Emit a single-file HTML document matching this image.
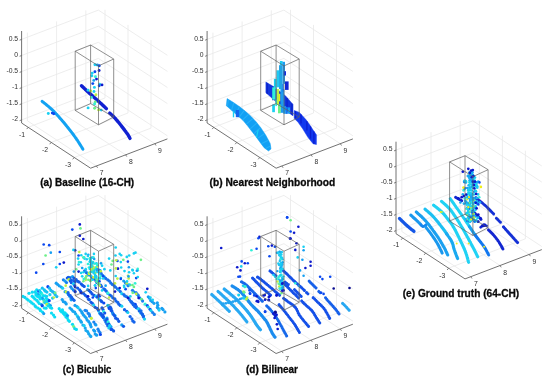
<!DOCTYPE html><html><head><meta charset="utf-8"><title>Figure</title><style>html,body{margin:0;padding:0;background:#fff}svg{display:block}text{font-family:"Liberation Sans",sans-serif}</style></head><body>
<svg width="550" height="382" viewBox="0 0 550 382">
<rect width="550" height="382" fill="#fff"/>
<g transform="translate(0,0)" font-size="6.8" fill="#303030">
<line x1="96.4" y1="166.0" x2="27.4" y2="120.8" stroke="#e9e9e9" stroke-width="0.8"/>
<line x1="27.4" y1="120.8" x2="27.4" y2="32.6" stroke="#e9e9e9" stroke-width="0.8"/>
<line x1="125.6" y1="154.8" x2="56.6" y2="109.6" stroke="#e9e9e9" stroke-width="0.8"/>
<line x1="56.6" y1="109.6" x2="56.6" y2="21.4" stroke="#e9e9e9" stroke-width="0.8"/>
<line x1="154.8" y1="143.7" x2="85.8" y2="98.4" stroke="#e9e9e9" stroke-width="0.8"/>
<line x1="85.8" y1="98.4" x2="85.8" y2="10.3" stroke="#e9e9e9" stroke-width="0.8"/>
<line x1="28.2" y1="127.3" x2="105.0" y2="98.0" stroke="#e9e9e9" stroke-width="0.8"/>
<line x1="105.0" y1="98.0" x2="105.0" y2="9.8" stroke="#e9e9e9" stroke-width="0.8"/>
<line x1="51.2" y1="142.4" x2="128.0" y2="113.0" stroke="#e9e9e9" stroke-width="0.8"/>
<line x1="128.0" y1="113.0" x2="128.0" y2="24.9" stroke="#e9e9e9" stroke-width="0.8"/>
<line x1="74.2" y1="157.5" x2="151.0" y2="128.1" stroke="#e9e9e9" stroke-width="0.8"/>
<line x1="151.0" y1="128.1" x2="151.0" y2="40.0" stroke="#e9e9e9" stroke-width="0.8"/>
<line x1="21.6" y1="39.4" x2="98.4" y2="10.1" stroke="#e9e9e9" stroke-width="0.8"/>
<line x1="98.4" y1="10.1" x2="167.4" y2="55.3" stroke="#e9e9e9" stroke-width="0.8"/>
<line x1="21.6" y1="55.5" x2="98.4" y2="26.2" stroke="#e9e9e9" stroke-width="0.8"/>
<line x1="98.4" y1="26.2" x2="167.4" y2="71.4" stroke="#e9e9e9" stroke-width="0.8"/>
<line x1="21.6" y1="71.6" x2="98.4" y2="42.3" stroke="#e9e9e9" stroke-width="0.8"/>
<line x1="98.4" y1="42.3" x2="167.4" y2="87.5" stroke="#e9e9e9" stroke-width="0.8"/>
<line x1="21.6" y1="87.7" x2="98.4" y2="58.4" stroke="#e9e9e9" stroke-width="0.8"/>
<line x1="98.4" y1="58.4" x2="167.4" y2="103.6" stroke="#e9e9e9" stroke-width="0.8"/>
<line x1="21.6" y1="103.8" x2="98.4" y2="74.5" stroke="#e9e9e9" stroke-width="0.8"/>
<line x1="98.4" y1="74.5" x2="167.4" y2="119.7" stroke="#e9e9e9" stroke-width="0.8"/>
<line x1="21.6" y1="119.9" x2="98.4" y2="90.6" stroke="#e9e9e9" stroke-width="0.8"/>
<line x1="98.4" y1="90.6" x2="167.4" y2="135.8" stroke="#e9e9e9" stroke-width="0.8"/>
<polyline points="42.1,101.3 42.4,101.5 42.6,101.8 43.0,102.0 43.3,102.3 43.7,102.6 44.2,103.0 44.6,103.3 45.1,103.7 45.6,104.1 46.1,104.5 46.6,105.0 47.1,105.4 47.7,105.8 48.2,106.3 48.8,106.7 49.3,107.2 49.8,107.7 50.4,108.1 50.9,108.6 51.4,109.0 51.8,109.5 52.3,109.9 52.7,110.3 53.1,110.7 53.6,111.1 54.0,111.5 54.4,112.0 54.8,112.4 55.2,112.8 55.6,113.2 56.0,113.7 56.4,114.1 56.8,114.5 57.2,115.0 57.6,115.4 58.0,115.9 58.4,116.3 58.8,116.8 59.2,117.2 59.6,117.7 60.0,118.2 60.4,118.6 60.9,119.1 61.3,119.6 61.7,120.1 62.1,120.5 62.4,121.0 62.8,121.4 63.2,121.9 63.6,122.3 64.0,122.8 64.4,123.3 64.8,123.8 65.2,124.3 65.6,124.8 66.0,125.3 66.4,125.8 66.8,126.3 67.2,126.7 67.6,127.2 68.0,127.7 68.4,128.2 68.8,128.7 69.2,129.2 69.5,129.7 69.9,130.1 70.3,130.6 70.6,131.0 70.9,131.5 71.3,131.9 71.6,132.3 71.9,132.7 72.4,133.3 72.8,133.9 73.2,134.5 73.6,135.0 74.0,135.5 74.4,136.1 74.8,136.6 75.1,137.1 75.4,137.5 75.8,138.0 76.1,138.5 76.4,138.9 76.7,139.4 77.0,139.9 77.4,140.3 77.7,140.8 78.0,141.3 78.4,141.9 78.8,142.4 79.1,143.1 79.5,143.7 79.9,144.3 80.3,144.9 80.7,145.5 81.0,146.1 81.4,146.6 81.7,147.2 82.0,147.7 82.3,148.1 82.5,148.5 82.7,148.9 82.9,149.2" fill="none" stroke="#12a2f2" stroke-width="3.0" stroke-linecap="round" stroke-linejoin="round"/>
<polyline points="81.5,85.7 81.8,86.0 82.1,86.3 82.5,86.7 82.9,87.1 83.4,87.5 83.9,88.0 84.4,88.5 85.0,89.0 85.5,89.6 86.0,90.0 86.5,90.5 86.9,90.9 87.4,91.3 87.8,91.7 88.2,92.1 88.7,92.5 89.1,92.9 89.6,93.3 90.0,93.7 90.5,94.1 91.0,94.6 91.5,95.0 92.0,95.5 92.4,95.9 92.8,96.2 93.3,96.6 93.7,97.0 94.2,97.4 94.6,97.8 95.1,98.2 95.5,98.6 96.0,99.1 96.5,99.5 97.0,99.9 97.4,100.3 97.9,100.8 98.4,101.2 98.8,101.6 99.3,102.0 99.8,102.4 100.2,102.9 100.7,103.3 101.3,103.8 101.8,104.3 102.3,104.8 102.8,105.2 103.3,105.7 103.8,106.2 104.3,106.6 104.7,107.0 105.1,107.4 105.5,107.8 105.9,108.1 106.2,108.4 106.4,108.6" fill="none" stroke="#1020d2" stroke-width="3.4" stroke-linecap="round" stroke-linejoin="round"/>
<polyline points="109.7,113.1 110.0,113.4 110.3,113.7 110.7,114.0 111.2,114.5 111.7,114.9 112.2,115.4 112.7,115.9 113.3,116.4 113.8,117.0 114.3,117.5 114.7,117.9 115.1,118.3 115.5,118.8 115.9,119.2 116.3,119.7 116.7,120.1 117.1,120.6 117.5,121.1 117.9,121.6 118.3,122.0 118.7,122.5 119.1,123.0 119.5,123.5 119.9,124.0 120.3,124.5 120.7,125.0 121.1,125.5 121.5,126.1 121.9,126.6 122.3,127.1 122.7,127.6 123.1,128.1 123.5,128.6 123.8,129.1 124.2,129.6 124.5,130.0 124.9,130.6 125.4,131.1 125.8,131.7 126.1,132.2 126.5,132.7 126.8,133.1 127.2,133.6 127.5,134.0 127.8,134.5 128.2,135.1 128.6,135.8 128.9,136.4 129.3,137.0 129.6,137.6 129.8,138.1 130.0,138.4" fill="none" stroke="#1020d2" stroke-width="3.4" stroke-linecap="round" stroke-linejoin="round"/>
<circle cx="94.9" cy="64.7" r="1.45" fill="#18d0f2"/>
<circle cx="97.3" cy="65.0" r="1.45" fill="#16a0f2"/>
<circle cx="99.3" cy="65.8" r="1.45" fill="#0a48f0"/>
<circle cx="99.1" cy="70.5" r="1.45" fill="#0c18cc"/>
<circle cx="94.9" cy="71.7" r="1.45" fill="#0a48f0"/>
<circle cx="92.3" cy="73.1" r="1.45" fill="#18d0f2"/>
<circle cx="91.8" cy="75.7" r="1.45" fill="#18d0f2"/>
<circle cx="95.4" cy="76.8" r="1.45" fill="#30f0d8"/>
<circle cx="96.5" cy="79.1" r="1.45" fill="#0c18cc"/>
<circle cx="93.8" cy="80.4" r="1.45" fill="#16a0f2"/>
<circle cx="92.8" cy="83.6" r="1.45" fill="#0a48f0"/>
<circle cx="99.6" cy="84.3" r="1.45" fill="#18d0f2"/>
<circle cx="102.0" cy="84.9" r="1.45" fill="#0c18cc"/>
<circle cx="94.4" cy="87.4" r="1.45" fill="#18d0f2"/>
<circle cx="88.1" cy="90.2" r="1.45" fill="#18d0f2"/>
<circle cx="90.7" cy="90.9" r="1.45" fill="#c0f040"/>
<circle cx="94.0" cy="91.5" r="1.45" fill="#18d0f2"/>
<circle cx="95.9" cy="94.8" r="1.45" fill="#c0f040"/>
<circle cx="91.4" cy="97.4" r="1.45" fill="#30f0d8"/>
<circle cx="95.3" cy="102.0" r="1.45" fill="#6cf088"/>
<circle cx="94.6" cy="104.0" r="1.45" fill="#30f0d8"/>
<circle cx="88.1" cy="107.9" r="1.45" fill="#18d0f2"/>
<circle cx="94.6" cy="108.3" r="1.45" fill="#6cf088"/>
<circle cx="98.6" cy="109.9" r="1.45" fill="#c0f040"/>
<circle cx="101.2" cy="110.1" r="1.45" fill="#18d0f2"/>
<circle cx="99.2" cy="85.7" r="1.45" fill="#0a48f0"/>
<circle cx="48.3" cy="113.5" r="1.45" fill="#18d0f2"/>
<circle cx="52.3" cy="113.1" r="1.45" fill="#0a48f0"/>
<circle cx="53.8" cy="113.8" r="1.45" fill="#0a48f0"/>
<line x1="75.2" y1="51.2" x2="90.6" y2="45.0" stroke="#606060" stroke-width="0.7"/>
<line x1="90.6" y1="45.0" x2="113.7" y2="59.0" stroke="#606060" stroke-width="0.7"/>
<line x1="113.7" y1="59.0" x2="98.5" y2="65.9" stroke="#606060" stroke-width="0.7"/>
<line x1="98.5" y1="65.9" x2="75.2" y2="51.2" stroke="#606060" stroke-width="0.7"/>
<line x1="75.2" y1="110.4" x2="90.6" y2="103.6" stroke="#606060" stroke-width="0.7"/>
<line x1="90.6" y1="103.6" x2="113.7" y2="117.0" stroke="#606060" stroke-width="0.7"/>
<line x1="113.7" y1="117.0" x2="98.5" y2="124.8" stroke="#606060" stroke-width="0.7"/>
<line x1="98.5" y1="124.8" x2="75.2" y2="110.4" stroke="#606060" stroke-width="0.7"/>
<line x1="75.2" y1="51.2" x2="75.2" y2="110.4" stroke="#606060" stroke-width="0.7"/>
<line x1="90.6" y1="45.0" x2="90.6" y2="103.6" stroke="#606060" stroke-width="0.7"/>
<line x1="113.7" y1="59.0" x2="113.7" y2="117.0" stroke="#606060" stroke-width="0.7"/>
<line x1="98.5" y1="65.9" x2="98.5" y2="124.8" stroke="#606060" stroke-width="0.7"/>
<polyline points="21.6,31.0 21.6,123.0 90.6,168.2 167.4,138.9" fill="none" stroke="#626262" stroke-width="0.9"/>
<line x1="21.6" y1="39.4" x2="19.6" y2="40.2" stroke="#626262" stroke-width="0.8"/>
<text x="18.1" y="40.8" text-anchor="end">0.5</text>
<line x1="21.6" y1="55.5" x2="19.6" y2="56.3" stroke="#626262" stroke-width="0.8"/>
<text x="18.1" y="56.9" text-anchor="end">0</text>
<line x1="21.6" y1="71.6" x2="19.6" y2="72.4" stroke="#626262" stroke-width="0.8"/>
<text x="18.1" y="73.0" text-anchor="end">-0.5</text>
<line x1="21.6" y1="87.7" x2="19.6" y2="88.5" stroke="#626262" stroke-width="0.8"/>
<text x="18.1" y="89.1" text-anchor="end">-1</text>
<line x1="21.6" y1="103.8" x2="19.6" y2="104.6" stroke="#626262" stroke-width="0.8"/>
<text x="18.1" y="105.2" text-anchor="end">-1.5</text>
<line x1="21.6" y1="119.9" x2="19.6" y2="120.7" stroke="#626262" stroke-width="0.8"/>
<text x="18.1" y="121.3" text-anchor="end">-2</text>
<line x1="28.2" y1="127.3" x2="26.7" y2="129.1" stroke="#626262" stroke-width="0.8"/>
<text x="21.9" y="136.8" text-anchor="middle">-1</text>
<line x1="51.2" y1="142.4" x2="49.7" y2="144.2" stroke="#626262" stroke-width="0.8"/>
<text x="44.9" y="151.9" text-anchor="middle">-2</text>
<line x1="74.2" y1="157.5" x2="72.7" y2="159.3" stroke="#626262" stroke-width="0.8"/>
<text x="67.9" y="167.0" text-anchor="middle">-3</text>
<line x1="96.4" y1="166.0" x2="97.6" y2="167.8" stroke="#626262" stroke-width="0.8"/>
<text x="101.6" y="175.4" text-anchor="middle">7</text>
<line x1="125.6" y1="154.8" x2="126.8" y2="156.6" stroke="#626262" stroke-width="0.8"/>
<text x="130.8" y="164.2" text-anchor="middle">8</text>
<line x1="154.8" y1="143.7" x2="156.0" y2="145.5" stroke="#626262" stroke-width="0.8"/>
<text x="160.0" y="153.1" text-anchor="middle">9</text>
</g>
<g transform="translate(185.5,0)" font-size="6.8" fill="#303030">
<line x1="96.4" y1="166.0" x2="27.4" y2="120.8" stroke="#e9e9e9" stroke-width="0.8"/>
<line x1="27.4" y1="120.8" x2="27.4" y2="32.6" stroke="#e9e9e9" stroke-width="0.8"/>
<line x1="125.6" y1="154.8" x2="56.6" y2="109.6" stroke="#e9e9e9" stroke-width="0.8"/>
<line x1="56.6" y1="109.6" x2="56.6" y2="21.4" stroke="#e9e9e9" stroke-width="0.8"/>
<line x1="154.8" y1="143.7" x2="85.8" y2="98.4" stroke="#e9e9e9" stroke-width="0.8"/>
<line x1="85.8" y1="98.4" x2="85.8" y2="10.3" stroke="#e9e9e9" stroke-width="0.8"/>
<line x1="28.2" y1="127.3" x2="105.0" y2="98.0" stroke="#e9e9e9" stroke-width="0.8"/>
<line x1="105.0" y1="98.0" x2="105.0" y2="9.8" stroke="#e9e9e9" stroke-width="0.8"/>
<line x1="51.2" y1="142.4" x2="128.0" y2="113.0" stroke="#e9e9e9" stroke-width="0.8"/>
<line x1="128.0" y1="113.0" x2="128.0" y2="24.9" stroke="#e9e9e9" stroke-width="0.8"/>
<line x1="74.2" y1="157.5" x2="151.0" y2="128.1" stroke="#e9e9e9" stroke-width="0.8"/>
<line x1="151.0" y1="128.1" x2="151.0" y2="40.0" stroke="#e9e9e9" stroke-width="0.8"/>
<line x1="21.6" y1="39.4" x2="98.4" y2="10.1" stroke="#e9e9e9" stroke-width="0.8"/>
<line x1="98.4" y1="10.1" x2="167.4" y2="55.3" stroke="#e9e9e9" stroke-width="0.8"/>
<line x1="21.6" y1="55.5" x2="98.4" y2="26.2" stroke="#e9e9e9" stroke-width="0.8"/>
<line x1="98.4" y1="26.2" x2="167.4" y2="71.4" stroke="#e9e9e9" stroke-width="0.8"/>
<line x1="21.6" y1="71.6" x2="98.4" y2="42.3" stroke="#e9e9e9" stroke-width="0.8"/>
<line x1="98.4" y1="42.3" x2="167.4" y2="87.5" stroke="#e9e9e9" stroke-width="0.8"/>
<line x1="21.6" y1="87.7" x2="98.4" y2="58.4" stroke="#e9e9e9" stroke-width="0.8"/>
<line x1="98.4" y1="58.4" x2="167.4" y2="103.6" stroke="#e9e9e9" stroke-width="0.8"/>
<line x1="21.6" y1="103.8" x2="98.4" y2="74.5" stroke="#e9e9e9" stroke-width="0.8"/>
<line x1="98.4" y1="74.5" x2="167.4" y2="119.7" stroke="#e9e9e9" stroke-width="0.8"/>
<line x1="21.6" y1="119.9" x2="98.4" y2="90.6" stroke="#e9e9e9" stroke-width="0.8"/>
<line x1="98.4" y1="90.6" x2="167.4" y2="135.8" stroke="#e9e9e9" stroke-width="0.8"/>
<polygon points="41.6,98.6 48.0,102.5 54.9,107.3 60.5,111.8 65.9,116.7 70.8,122.0 75.3,127.7 80.3,135.2 84.7,143.4 85.5,149.0 83.0,151.0 78.6,147.7 73.9,141.4 70.0,136.0 66.0,130.9 61.8,125.6 57.6,120.5 54.0,117.3 50.2,114.0 45.5,109.8 40.8,105.7" fill="#12a0f4" stroke="#12a0f4" stroke-width="0.5" stroke-linejoin="round"/>
<line x1="42.9" y1="99.7" x2="41.9" y2="106.3" stroke="#26b0f8" stroke-width="1.1"/>
<line x1="48.2" y1="102.9" x2="46.1" y2="110.1" stroke="#26b0f8" stroke-width="1.1"/>
<line x1="53.8" y1="106.8" x2="50.4" y2="113.9" stroke="#26b0f8" stroke-width="1.1"/>
<line x1="58.6" y1="110.6" x2="53.8" y2="116.8" stroke="#26b0f8" stroke-width="1.1"/>
<line x1="63.1" y1="114.4" x2="57.1" y2="119.8" stroke="#26b0f8" stroke-width="1.1"/>
<line x1="67.3" y1="118.6" x2="60.8" y2="124.1" stroke="#26b0f8" stroke-width="1.1"/>
<line x1="71.3" y1="122.9" x2="64.7" y2="128.9" stroke="#26b0f8" stroke-width="1.1"/>
<line x1="75.0" y1="127.6" x2="68.4" y2="133.6" stroke="#26b0f8" stroke-width="1.1"/>
<line x1="79.0" y1="133.6" x2="72.0" y2="138.4" stroke="#26b0f8" stroke-width="1.1"/>
<line x1="82.8" y1="140.2" x2="75.8" y2="143.7" stroke="#26b0f8" stroke-width="1.1"/>
<line x1="85.0" y1="145.9" x2="80.0" y2="148.4" stroke="#26b0f8" stroke-width="1.1"/>
<rect x="50.3" y="110.0" width="3.4" height="7.2" fill="#1464ee"/>
<rect x="47.3" y="111.5" width="1.4" height="5.8" fill="#18d0f2"/>
<line x1="72.6" y1="129.8" x2="71" y2="137.5" stroke="#18d0f2" stroke-width="1.2"/>
<polygon points="80.4,82.1 88.7,87.0 100.4,96.2 107.5,104.5 107.5,115.8 98.1,109.2 91.0,102.1 80.4,92.7" fill="#1236de" stroke="#1236de" stroke-width="0.5" stroke-linejoin="round"/>
<polygon points="108.7,110.5 113.9,112.4 120.4,119.6 124.2,124.8 127.6,130.1 130.9,134.7 130.9,144.5 127.6,143.8 122.4,137.3 117.2,128.8 112.6,122.3 108.7,118.3" fill="#1238ee" stroke="#1238ee" stroke-width="0.5" stroke-linejoin="round"/>
<line x1="81.8" y1="83.2" x2="81.8" y2="94.0" stroke="#0c24cc" stroke-width="1.3"/>
<line x1="87.3" y1="86.5" x2="87.3" y2="100.2" stroke="#0c24cc" stroke-width="1.3"/>
<line x1="94.6" y1="91.9" x2="94.6" y2="105.4" stroke="#0c24cc" stroke-width="1.3"/>
<line x1="101.6" y1="97.9" x2="101.6" y2="110.0" stroke="#0c24cc" stroke-width="1.3"/>
<line x1="106.3" y1="103.4" x2="106.3" y2="114.4" stroke="#0c24cc" stroke-width="1.3"/>
<line x1="110.0" y1="111.3" x2="110.0" y2="119.0" stroke="#0a1ed0" stroke-width="1.3"/>
<line x1="115.5" y1="114.5" x2="115.5" y2="123.6" stroke="#0a1ed0" stroke-width="1.3"/>
<line x1="121.4" y1="121.2" x2="121.4" y2="130.6" stroke="#0a1ed0" stroke-width="1.3"/>
<line x1="125.0" y1="126.4" x2="125.0" y2="138.6" stroke="#0a1ed0" stroke-width="1.3"/>
<line x1="128.4" y1="131.6" x2="128.4" y2="143.7" stroke="#0a1ed0" stroke-width="1.3"/>
<rect x="94.4" y="61.0" width="2.7" height="4.6" fill="#18d0f2"/>
<rect x="96.9" y="61.8" width="2.6" height="22.1" fill="#1c9cf0"/>
<rect x="98.3" y="71.2" width="2.2" height="4.3" fill="#1030e0"/>
<rect x="93.5" y="65.2" width="3.4" height="23.8" fill="#22a4e6"/>
<rect x="91.0" y="70.3" width="2.7" height="17.0" fill="#20c8f0"/>
<rect x="88.4" y="78.8" width="2.7" height="10.2" fill="#18d0f2"/>
<rect x="99.5" y="81.4" width="3.6" height="8.5" fill="#1226d4"/>
<rect x="86.7" y="87.3" width="3.4" height="12.3" fill="#30f0d8"/>
<rect x="91.0" y="89.0" width="2.7" height="15.7" fill="#c0f040"/>
<rect x="93.5" y="93.8" width="1.5" height="7.5" fill="#f0ee18"/>
<rect x="94.9" y="89.0" width="3.9" height="23.8" fill="#1c9cf0"/>
<rect x="86.7" y="104.4" width="2.7" height="7.8" fill="#18d0f2"/>
<rect x="92.5" y="104.4" width="2.7" height="8.9" fill="#6cf088"/>
<rect x="97.8" y="106.1" width="2.6" height="7.7" fill="#16a0f2"/>
<rect x="100.3" y="106.9" width="2.0" height="7.0" fill="#1274f0"/>
<rect x="102.4" y="107.4" width="2.2" height="6.3" fill="#16a0f2"/>
<rect x="96.6" y="83.9" width="1.7" height="7.7" fill="#1a84ee"/>
<rect x="89.8" y="99.6" width="1.7" height="6.5" fill="#30f0d8"/>
<line x1="75.2" y1="51.2" x2="90.6" y2="45.0" stroke="#606060" stroke-width="0.7"/>
<line x1="90.6" y1="45.0" x2="113.7" y2="59.0" stroke="#606060" stroke-width="0.7"/>
<line x1="113.7" y1="59.0" x2="98.5" y2="65.9" stroke="#606060" stroke-width="0.7"/>
<line x1="98.5" y1="65.9" x2="75.2" y2="51.2" stroke="#606060" stroke-width="0.7"/>
<line x1="75.2" y1="110.4" x2="90.6" y2="103.6" stroke="#606060" stroke-width="0.7"/>
<line x1="90.6" y1="103.6" x2="113.7" y2="117.0" stroke="#606060" stroke-width="0.7"/>
<line x1="113.7" y1="117.0" x2="98.5" y2="124.8" stroke="#606060" stroke-width="0.7"/>
<line x1="98.5" y1="124.8" x2="75.2" y2="110.4" stroke="#606060" stroke-width="0.7"/>
<line x1="75.2" y1="51.2" x2="75.2" y2="110.4" stroke="#606060" stroke-width="0.7"/>
<line x1="90.6" y1="45.0" x2="90.6" y2="103.6" stroke="#606060" stroke-width="0.7"/>
<line x1="113.7" y1="59.0" x2="113.7" y2="117.0" stroke="#606060" stroke-width="0.7"/>
<line x1="98.5" y1="65.9" x2="98.5" y2="124.8" stroke="#606060" stroke-width="0.7"/>
<polyline points="21.6,31.0 21.6,123.0 90.6,168.2 167.4,138.9" fill="none" stroke="#626262" stroke-width="0.9"/>
<line x1="21.6" y1="39.4" x2="19.6" y2="40.2" stroke="#626262" stroke-width="0.8"/>
<text x="18.1" y="40.8" text-anchor="end">0.5</text>
<line x1="21.6" y1="55.5" x2="19.6" y2="56.3" stroke="#626262" stroke-width="0.8"/>
<text x="18.1" y="56.9" text-anchor="end">0</text>
<line x1="21.6" y1="71.6" x2="19.6" y2="72.4" stroke="#626262" stroke-width="0.8"/>
<text x="18.1" y="73.0" text-anchor="end">-0.5</text>
<line x1="21.6" y1="87.7" x2="19.6" y2="88.5" stroke="#626262" stroke-width="0.8"/>
<text x="18.1" y="89.1" text-anchor="end">-1</text>
<line x1="21.6" y1="103.8" x2="19.6" y2="104.6" stroke="#626262" stroke-width="0.8"/>
<text x="18.1" y="105.2" text-anchor="end">-1.5</text>
<line x1="21.6" y1="119.9" x2="19.6" y2="120.7" stroke="#626262" stroke-width="0.8"/>
<text x="18.1" y="121.3" text-anchor="end">-2</text>
<line x1="28.2" y1="127.3" x2="26.7" y2="129.1" stroke="#626262" stroke-width="0.8"/>
<text x="21.9" y="136.8" text-anchor="middle">-1</text>
<line x1="51.2" y1="142.4" x2="49.7" y2="144.2" stroke="#626262" stroke-width="0.8"/>
<text x="44.9" y="151.9" text-anchor="middle">-2</text>
<line x1="74.2" y1="157.5" x2="72.7" y2="159.3" stroke="#626262" stroke-width="0.8"/>
<text x="67.9" y="167.0" text-anchor="middle">-3</text>
<line x1="96.4" y1="166.0" x2="97.6" y2="167.8" stroke="#626262" stroke-width="0.8"/>
<text x="101.6" y="175.4" text-anchor="middle">7</text>
<line x1="125.6" y1="154.8" x2="126.8" y2="156.6" stroke="#626262" stroke-width="0.8"/>
<text x="130.8" y="164.2" text-anchor="middle">8</text>
<line x1="154.8" y1="143.7" x2="156.0" y2="145.5" stroke="#626262" stroke-width="0.8"/>
<text x="160.0" y="153.1" text-anchor="middle">9</text>
</g>
<g transform="translate(0,185.3)" font-size="6.8" fill="#303030">
<line x1="96.4" y1="166.0" x2="27.4" y2="120.8" stroke="#e9e9e9" stroke-width="0.8"/>
<line x1="27.4" y1="120.8" x2="27.4" y2="32.6" stroke="#e9e9e9" stroke-width="0.8"/>
<line x1="125.6" y1="154.8" x2="56.6" y2="109.6" stroke="#e9e9e9" stroke-width="0.8"/>
<line x1="56.6" y1="109.6" x2="56.6" y2="21.4" stroke="#e9e9e9" stroke-width="0.8"/>
<line x1="154.8" y1="143.7" x2="85.8" y2="98.4" stroke="#e9e9e9" stroke-width="0.8"/>
<line x1="85.8" y1="98.4" x2="85.8" y2="10.3" stroke="#e9e9e9" stroke-width="0.8"/>
<line x1="28.2" y1="127.3" x2="105.0" y2="98.0" stroke="#e9e9e9" stroke-width="0.8"/>
<line x1="105.0" y1="98.0" x2="105.0" y2="9.8" stroke="#e9e9e9" stroke-width="0.8"/>
<line x1="51.2" y1="142.4" x2="128.0" y2="113.0" stroke="#e9e9e9" stroke-width="0.8"/>
<line x1="128.0" y1="113.0" x2="128.0" y2="24.9" stroke="#e9e9e9" stroke-width="0.8"/>
<line x1="74.2" y1="157.5" x2="151.0" y2="128.1" stroke="#e9e9e9" stroke-width="0.8"/>
<line x1="151.0" y1="128.1" x2="151.0" y2="40.0" stroke="#e9e9e9" stroke-width="0.8"/>
<line x1="21.6" y1="39.4" x2="98.4" y2="10.1" stroke="#e9e9e9" stroke-width="0.8"/>
<line x1="98.4" y1="10.1" x2="167.4" y2="55.3" stroke="#e9e9e9" stroke-width="0.8"/>
<line x1="21.6" y1="55.5" x2="98.4" y2="26.2" stroke="#e9e9e9" stroke-width="0.8"/>
<line x1="98.4" y1="26.2" x2="167.4" y2="71.4" stroke="#e9e9e9" stroke-width="0.8"/>
<line x1="21.6" y1="71.6" x2="98.4" y2="42.3" stroke="#e9e9e9" stroke-width="0.8"/>
<line x1="98.4" y1="42.3" x2="167.4" y2="87.5" stroke="#e9e9e9" stroke-width="0.8"/>
<line x1="21.6" y1="87.7" x2="98.4" y2="58.4" stroke="#e9e9e9" stroke-width="0.8"/>
<line x1="98.4" y1="58.4" x2="167.4" y2="103.6" stroke="#e9e9e9" stroke-width="0.8"/>
<line x1="21.6" y1="103.8" x2="98.4" y2="74.5" stroke="#e9e9e9" stroke-width="0.8"/>
<line x1="98.4" y1="74.5" x2="167.4" y2="119.7" stroke="#e9e9e9" stroke-width="0.8"/>
<line x1="21.6" y1="119.9" x2="98.4" y2="90.6" stroke="#e9e9e9" stroke-width="0.8"/>
<line x1="98.4" y1="90.6" x2="167.4" y2="135.8" stroke="#e9e9e9" stroke-width="0.8"/>
<circle cx="23.0" cy="111.1" r="1.6" fill="#0cdcf4"/>
<circle cx="24.9" cy="112.1" r="1.6" fill="#18d0f2"/>
<circle cx="26.8" cy="113.7" r="1.6" fill="#0cdcf4"/>
<circle cx="28.2" cy="114.8" r="1.6" fill="#0cdcf4"/>
<circle cx="30.3" cy="116.2" r="1.6" fill="#0cdcf4"/>
<circle cx="31.7" cy="117.6" r="1.6" fill="#0cdcf4"/>
<circle cx="33.4" cy="118.7" r="1.6" fill="#0cdcf4"/>
<circle cx="35.1" cy="120.6" r="1.6" fill="#18d0f2"/>
<circle cx="36.0" cy="121.7" r="1.6" fill="#0cdcf4"/>
<circle cx="37.9" cy="122.7" r="1.6" fill="#0cdcf4"/>
<circle cx="39.9" cy="124.1" r="1.6" fill="#0cdcf4"/>
<circle cx="40.5" cy="125.4" r="1.6" fill="#0cdcf4"/>
<circle cx="42.5" cy="126.7" r="1.6" fill="#0cdcf4"/>
<circle cx="43.7" cy="128.3" r="1.6" fill="#16a0f2"/>
<circle cx="29.0" cy="108.0" r="1.6" fill="#0cdcf4"/>
<circle cx="32.2" cy="110.9" r="1.6" fill="#0cdcf4"/>
<circle cx="33.4" cy="112.0" r="1.6" fill="#0cdcf4"/>
<circle cx="34.8" cy="113.5" r="1.6" fill="#0cdcf4"/>
<circle cx="36.7" cy="115.0" r="1.6" fill="#0cdcf4"/>
<circle cx="38.0" cy="116.5" r="1.6" fill="#0cdcf4"/>
<circle cx="39.3" cy="118.2" r="1.6" fill="#0cdcf4"/>
<circle cx="41.5" cy="119.2" r="1.6" fill="#16a0f2"/>
<circle cx="42.3" cy="120.4" r="1.6" fill="#0a48f0"/>
<circle cx="44.3" cy="122.7" r="1.6" fill="#0cdcf4"/>
<circle cx="46.0" cy="122.9" r="1.6" fill="#0cdcf4"/>
<circle cx="35.0" cy="106.6" r="1.6" fill="#18d0f2"/>
<circle cx="36.4" cy="107.9" r="1.6" fill="#0cdcf4"/>
<circle cx="38.5" cy="109.2" r="1.6" fill="#16a0f2"/>
<circle cx="39.9" cy="110.5" r="1.6" fill="#0cdcf4"/>
<circle cx="41.3" cy="112.5" r="1.6" fill="#0cdcf4"/>
<circle cx="42.5" cy="113.1" r="1.6" fill="#16a0f2"/>
<circle cx="44.0" cy="114.9" r="1.6" fill="#18d0f2"/>
<circle cx="46.2" cy="116.0" r="1.6" fill="#0cdcf4"/>
<circle cx="47.0" cy="117.2" r="1.6" fill="#0cdcf4"/>
<circle cx="48.8" cy="119.0" r="1.6" fill="#0cdcf4"/>
<circle cx="50.4" cy="120.2" r="1.6" fill="#16a0f2"/>
<circle cx="42.3" cy="102.9" r="1.6" fill="#14c4f2"/>
<circle cx="44.3" cy="104.6" r="1.6" fill="#14c4f2"/>
<circle cx="45.5" cy="105.9" r="1.6" fill="#14c4f2"/>
<circle cx="46.9" cy="106.8" r="1.6" fill="#14c4f2"/>
<circle cx="49.9" cy="109.4" r="1.6" fill="#18d0f2"/>
<circle cx="52.6" cy="112.8" r="1.6" fill="#14c4f2"/>
<circle cx="32.3" cy="106.9" r="1.6" fill="#0cdcf4"/>
<circle cx="35.9" cy="109.6" r="1.6" fill="#0cdcf4"/>
<circle cx="37.4" cy="111.0" r="1.6" fill="#0cdcf4"/>
<circle cx="38.8" cy="111.6" r="1.6" fill="#0cdcf4"/>
<circle cx="40.1" cy="113.6" r="1.6" fill="#0cdcf4"/>
<circle cx="44.1" cy="116.6" r="1.6" fill="#6cf088"/>
<circle cx="45.0" cy="117.4" r="1.6" fill="#18d0f2"/>
<circle cx="46.8" cy="119.1" r="1.6" fill="#c0f040"/>
<circle cx="48.0" cy="120.5" r="1.6" fill="#0cdcf4"/>
<circle cx="50.2" cy="122.1" r="1.6" fill="#0cdcf4"/>
<circle cx="51.6" cy="122.9" r="1.6" fill="#0cdcf4"/>
<circle cx="36.7" cy="104.6" r="1.6" fill="#0cdcf4"/>
<circle cx="38.9" cy="105.9" r="1.6" fill="#0a48f0"/>
<circle cx="40.4" cy="106.7" r="1.6" fill="#0cdcf4"/>
<circle cx="41.3" cy="107.9" r="1.6" fill="#0cdcf4"/>
<circle cx="43.2" cy="110.4" r="1.6" fill="#0cdcf4"/>
<circle cx="45.2" cy="110.6" r="1.6" fill="#0cdcf4"/>
<circle cx="46.3" cy="113.0" r="1.6" fill="#0cdcf4"/>
<circle cx="47.7" cy="114.2" r="1.6" fill="#0cdcf4"/>
<circle cx="49.2" cy="115.4" r="1.6" fill="#0a48f0"/>
<circle cx="47.9" cy="101.4" r="1.6" fill="#0a48f0"/>
<circle cx="49.4" cy="102.9" r="1.6" fill="#18b8f0"/>
<circle cx="50.9" cy="105.1" r="1.6" fill="#18b8f0"/>
<circle cx="52.6" cy="106.4" r="1.6" fill="#18b8f0"/>
<circle cx="54.1" cy="107.3" r="1.6" fill="#18b8f0"/>
<circle cx="55.1" cy="109.1" r="1.6" fill="#18b8f0"/>
<circle cx="56.8" cy="111.3" r="1.6" fill="#18b8f0"/>
<circle cx="56.2" cy="97.9" r="1.6" fill="#16a0f2"/>
<circle cx="57.5" cy="99.0" r="1.6" fill="#16a0f2"/>
<circle cx="59.2" cy="100.5" r="1.6" fill="#16a0f2"/>
<circle cx="61.2" cy="101.7" r="1.6" fill="#16a0f2"/>
<circle cx="62.6" cy="102.9" r="1.6" fill="#18d0f2"/>
<circle cx="65.1" cy="106.4" r="1.6" fill="#16a0f2"/>
<circle cx="67.3" cy="107.8" r="1.6" fill="#18d0f2"/>
<circle cx="69.7" cy="111.0" r="1.6" fill="#16a0f2"/>
<circle cx="71.1" cy="113.1" r="1.6" fill="#16a0f2"/>
<circle cx="71.2" cy="114.5" r="1.6" fill="#16a0f2"/>
<circle cx="63.4" cy="94.5" r="1.6" fill="#1a80f0"/>
<circle cx="65.1" cy="95.8" r="1.6" fill="#16a0f2"/>
<circle cx="66.5" cy="97.3" r="1.6" fill="#1a80f0"/>
<circle cx="70.7" cy="101.5" r="1.6" fill="#1a80f0"/>
<circle cx="71.9" cy="103.2" r="1.6" fill="#16a0f2"/>
<circle cx="73.4" cy="104.8" r="1.6" fill="#1a80f0"/>
<circle cx="75.1" cy="106.4" r="1.6" fill="#1a80f0"/>
<circle cx="68.3" cy="92.0" r="1.6" fill="#1464ec"/>
<circle cx="69.9" cy="92.4" r="1.6" fill="#1464ec"/>
<circle cx="71.3" cy="94.7" r="1.6" fill="#1464ec"/>
<circle cx="73.6" cy="95.3" r="1.6" fill="#1464ec"/>
<circle cx="74.9" cy="96.8" r="1.6" fill="#0a48f0"/>
<circle cx="51.5" cy="127.8" r="1.6" fill="#0cdcf4"/>
<circle cx="53.5" cy="129.8" r="1.6" fill="#0cdcf4"/>
<circle cx="54.7" cy="131.7" r="1.6" fill="#0cdcf4"/>
<circle cx="59.2" cy="123.4" r="1.6" fill="#0cdcf4"/>
<circle cx="60.5" cy="125.5" r="1.6" fill="#0cdcf4"/>
<circle cx="61.7" cy="126.7" r="1.6" fill="#0cdcf4"/>
<circle cx="63.5" cy="128.3" r="1.6" fill="#0cdcf4"/>
<circle cx="64.7" cy="129.6" r="1.6" fill="#0cdcf4"/>
<circle cx="66.0" cy="131.6" r="1.6" fill="#0cdcf4"/>
<circle cx="67.3" cy="132.6" r="1.6" fill="#0cdcf4"/>
<circle cx="68.2" cy="134.7" r="1.6" fill="#0cdcf4"/>
<circle cx="69.4" cy="136.0" r="1.6" fill="#0cdcf4"/>
<circle cx="72.5" cy="139.0" r="1.6" fill="#0cdcf4"/>
<circle cx="73.7" cy="141.2" r="1.6" fill="#6cf088"/>
<circle cx="74.7" cy="143.3" r="1.6" fill="#18d0f2"/>
<circle cx="76.4" cy="144.1" r="1.6" fill="#0cdcf4"/>
<circle cx="62.4" cy="124.6" r="1.6" fill="#0cdcf4"/>
<circle cx="62.9" cy="126.2" r="1.6" fill="#0cdcf4"/>
<circle cx="64.9" cy="127.5" r="1.6" fill="#0cdcf4"/>
<circle cx="66.2" cy="128.7" r="1.6" fill="#0cdcf4"/>
<circle cx="67.5" cy="130.3" r="1.6" fill="#16a0f2"/>
<circle cx="69.9" cy="122.8" r="1.6" fill="#18a8f0"/>
<circle cx="71.6" cy="124.3" r="1.6" fill="#16a0f2"/>
<circle cx="73.0" cy="126.0" r="1.6" fill="#18a8f0"/>
<circle cx="74.6" cy="126.7" r="1.6" fill="#18a8f0"/>
<circle cx="75.6" cy="128.5" r="1.6" fill="#18a8f0"/>
<circle cx="77.3" cy="130.6" r="1.6" fill="#18d0f2"/>
<circle cx="78.3" cy="132.0" r="1.6" fill="#18a8f0"/>
<circle cx="78.9" cy="133.6" r="1.6" fill="#18a8f0"/>
<circle cx="80.6" cy="135.5" r="1.6" fill="#18a8f0"/>
<circle cx="81.4" cy="136.9" r="1.6" fill="#18a8f0"/>
<circle cx="82.9" cy="139.7" r="1.6" fill="#18a8f0"/>
<circle cx="84.1" cy="140.3" r="1.6" fill="#18d0f2"/>
<circle cx="85.2" cy="142.8" r="1.6" fill="#18a8f0"/>
<circle cx="86.0" cy="145.2" r="1.6" fill="#18a8f0"/>
<circle cx="87.6" cy="146.3" r="1.6" fill="#18a8f0"/>
<circle cx="88.7" cy="148.4" r="1.6" fill="#18a8f0"/>
<circle cx="90.0" cy="150.2" r="1.6" fill="#18a8f0"/>
<circle cx="90.8" cy="151.3" r="1.6" fill="#18a8f0"/>
<circle cx="75.0" cy="120.1" r="1.6" fill="#16a0f2"/>
<circle cx="77.0" cy="121.2" r="1.6" fill="#16a0f2"/>
<circle cx="78.1" cy="122.4" r="1.6" fill="#18d0f2"/>
<circle cx="80.0" cy="124.5" r="1.6" fill="#16a0f2"/>
<circle cx="81.5" cy="126.2" r="1.6" fill="#16a0f2"/>
<circle cx="82.3" cy="127.9" r="1.6" fill="#16a0f2"/>
<circle cx="83.5" cy="129.7" r="1.6" fill="#16a0f2"/>
<circle cx="84.9" cy="131.3" r="1.6" fill="#16a0f2"/>
<circle cx="86.2" cy="132.8" r="1.6" fill="#16a0f2"/>
<circle cx="87.1" cy="134.8" r="1.6" fill="#16a0f2"/>
<circle cx="88.8" cy="136.4" r="1.6" fill="#16a0f2"/>
<circle cx="90.0" cy="138.4" r="1.6" fill="#16a0f2"/>
<circle cx="90.5" cy="139.6" r="1.6" fill="#16a0f2"/>
<circle cx="91.1" cy="141.5" r="1.6" fill="#16a0f2"/>
<circle cx="93.6" cy="144.8" r="1.6" fill="#16a0f2"/>
<circle cx="94.6" cy="145.9" r="1.6" fill="#16a0f2"/>
<circle cx="95.2" cy="148.7" r="1.6" fill="#16a0f2"/>
<circle cx="96.6" cy="149.9" r="1.6" fill="#16a0f2"/>
<circle cx="85.1" cy="125.0" r="1.6" fill="#1a84f0"/>
<circle cx="86.6" cy="125.6" r="1.6" fill="#1a84f0"/>
<circle cx="88.3" cy="128.0" r="1.6" fill="#1a84f0"/>
<circle cx="89.3" cy="129.0" r="1.6" fill="#1a84f0"/>
<circle cx="89.7" cy="130.9" r="1.6" fill="#1a84f0"/>
<circle cx="91.4" cy="133.0" r="1.6" fill="#c0f040"/>
<circle cx="93.8" cy="136.7" r="1.6" fill="#1a84f0"/>
<circle cx="95.1" cy="138.8" r="1.6" fill="#1a84f0"/>
<circle cx="95.9" cy="139.7" r="1.6" fill="#16a0f2"/>
<circle cx="98.0" cy="143.9" r="1.6" fill="#1a84f0"/>
<circle cx="98.8" cy="145.8" r="1.6" fill="#1a84f0"/>
<circle cx="100.0" cy="147.3" r="1.6" fill="#1a84f0"/>
<circle cx="100.4" cy="149.2" r="1.6" fill="#0a48f0"/>
<circle cx="98.8" cy="125.8" r="1.6" fill="#18d0f2"/>
<circle cx="99.7" cy="128.0" r="1.6" fill="#16a0f2"/>
<circle cx="100.8" cy="129.3" r="1.6" fill="#1670ee"/>
<circle cx="102.2" cy="131.0" r="1.6" fill="#1670ee"/>
<circle cx="103.4" cy="132.4" r="1.6" fill="#1670ee"/>
<circle cx="104.8" cy="134.7" r="1.6" fill="#1670ee"/>
<circle cx="105.8" cy="136.6" r="1.6" fill="#1670ee"/>
<circle cx="106.8" cy="138.4" r="1.6" fill="#1670ee"/>
<circle cx="107.7" cy="140.4" r="1.6" fill="#1670ee"/>
<circle cx="108.9" cy="142.5" r="1.6" fill="#18d0f2"/>
<circle cx="108.6" cy="121.3" r="1.6" fill="#1464ec"/>
<circle cx="109.2" cy="123.1" r="1.6" fill="#0a48f0"/>
<circle cx="111.1" cy="125.2" r="1.6" fill="#1464ec"/>
<circle cx="112.5" cy="127.2" r="1.6" fill="#1464ec"/>
<circle cx="112.9" cy="128.6" r="1.6" fill="#16a0f2"/>
<circle cx="115.0" cy="130.2" r="1.6" fill="#18d0f2"/>
<circle cx="66.2" cy="106.5" r="1.6" fill="#c0f040"/>
<circle cx="68.1" cy="107.4" r="1.6" fill="#1464ec"/>
<circle cx="68.6" cy="109.4" r="1.6" fill="#1464ec"/>
<circle cx="70.3" cy="110.4" r="1.6" fill="#1464ec"/>
<circle cx="71.6" cy="112.1" r="1.6" fill="#1464ec"/>
<circle cx="72.8" cy="113.7" r="1.6" fill="#1464ec"/>
<circle cx="74.1" cy="115.0" r="1.6" fill="#1464ec"/>
<circle cx="62.2" cy="114.2" r="1.6" fill="#16a0f2"/>
<circle cx="63.3" cy="116.3" r="1.6" fill="#16a0f2"/>
<circle cx="65.0" cy="117.0" r="1.6" fill="#16a0f2"/>
<circle cx="66.2" cy="118.6" r="1.6" fill="#16a0f2"/>
<circle cx="67.3" cy="92.7" r="1.6" fill="#1258e8"/>
<circle cx="68.8" cy="94.3" r="1.6" fill="#c0f040"/>
<circle cx="70.3" cy="95.6" r="1.6" fill="#1258e8"/>
<circle cx="71.4" cy="97.4" r="1.6" fill="#1258e8"/>
<circle cx="73.5" cy="98.6" r="1.6" fill="#18d0f2"/>
<circle cx="74.7" cy="100.3" r="1.6" fill="#1258e8"/>
<circle cx="77.6" cy="102.8" r="1.6" fill="#1258e8"/>
<circle cx="79.6" cy="104.5" r="1.6" fill="#1258e8"/>
<circle cx="80.7" cy="106.1" r="1.6" fill="#1258e8"/>
<circle cx="81.6" cy="107.5" r="1.6" fill="#0a48f0"/>
<circle cx="83.7" cy="108.2" r="1.6" fill="#1258e8"/>
<circle cx="85.3" cy="110.0" r="1.6" fill="#1258e8"/>
<circle cx="87.1" cy="111.6" r="1.6" fill="#1258e8"/>
<circle cx="88.5" cy="113.9" r="1.6" fill="#1258e8"/>
<circle cx="89.3" cy="114.5" r="1.6" fill="#1258e8"/>
<circle cx="91.1" cy="117.0" r="1.6" fill="#1258e8"/>
<circle cx="92.6" cy="118.2" r="1.6" fill="#1258e8"/>
<circle cx="93.7" cy="119.7" r="1.6" fill="#18d0f2"/>
<circle cx="95.2" cy="122.0" r="1.6" fill="#1258e8"/>
<circle cx="97.0" cy="123.0" r="1.6" fill="#1258e8"/>
<circle cx="98.3" cy="124.6" r="1.6" fill="#1258e8"/>
<circle cx="101.0" cy="128.2" r="1.6" fill="#1258e8"/>
<circle cx="102.7" cy="129.9" r="1.6" fill="#1258e8"/>
<circle cx="103.5" cy="131.5" r="1.6" fill="#1258e8"/>
<circle cx="105.5" cy="133.8" r="1.6" fill="#16a0f2"/>
<circle cx="106.4" cy="135.5" r="1.6" fill="#1258e8"/>
<circle cx="108.4" cy="138.6" r="1.6" fill="#1258e8"/>
<circle cx="109.8" cy="140.2" r="1.6" fill="#1258e8"/>
<circle cx="111.0" cy="141.5" r="1.6" fill="#16a0f2"/>
<circle cx="112.0" cy="144.2" r="1.6" fill="#1258e8"/>
<circle cx="113.6" cy="145.6" r="1.6" fill="#1258e8"/>
<circle cx="72.5" cy="91.4" r="1.6" fill="#16a0f2"/>
<circle cx="73.9" cy="92.7" r="1.6" fill="#1258e8"/>
<circle cx="76.2" cy="94.4" r="1.6" fill="#1258e8"/>
<circle cx="77.8" cy="96.0" r="1.6" fill="#1258e8"/>
<circle cx="79.2" cy="96.8" r="1.6" fill="#1258e8"/>
<circle cx="81.3" cy="98.8" r="1.6" fill="#1258e8"/>
<circle cx="82.6" cy="100.0" r="1.6" fill="#1258e8"/>
<circle cx="84.2" cy="101.1" r="1.6" fill="#1258e8"/>
<circle cx="87.7" cy="104.4" r="1.6" fill="#16a0f2"/>
<circle cx="89.2" cy="105.4" r="1.6" fill="#1258e8"/>
<circle cx="90.7" cy="106.9" r="1.6" fill="#1258e8"/>
<circle cx="92.1" cy="108.6" r="1.6" fill="#1258e8"/>
<circle cx="94.1" cy="110.0" r="1.6" fill="#1258e8"/>
<circle cx="96.0" cy="110.8" r="1.6" fill="#18d0f2"/>
<circle cx="97.2" cy="111.9" r="1.6" fill="#1258e8"/>
<circle cx="99.0" cy="113.9" r="1.6" fill="#18d0f2"/>
<circle cx="100.8" cy="115.2" r="1.6" fill="#1258e8"/>
<circle cx="101.7" cy="116.4" r="1.6" fill="#1258e8"/>
<circle cx="103.8" cy="117.7" r="1.6" fill="#0a48f0"/>
<circle cx="107.8" cy="120.0" r="1.6" fill="#18d0f2"/>
<circle cx="110.2" cy="121.8" r="1.6" fill="#1258e8"/>
<circle cx="110.9" cy="123.0" r="1.6" fill="#1258e8"/>
<circle cx="111.7" cy="125.3" r="1.6" fill="#1258e8"/>
<circle cx="113.7" cy="129.2" r="1.6" fill="#1258e8"/>
<circle cx="114.7" cy="130.7" r="1.6" fill="#1258e8"/>
<circle cx="115.7" cy="132.9" r="1.6" fill="#1258e8"/>
<circle cx="117.5" cy="133.9" r="1.6" fill="#1258e8"/>
<circle cx="118.8" cy="136.0" r="1.6" fill="#1258e8"/>
<circle cx="121.8" cy="139.6" r="1.6" fill="#16a0f2"/>
<circle cx="123.5" cy="141.0" r="1.6" fill="#1258e8"/>
<circle cx="84.6" cy="85.5" r="1.6" fill="#1464ec"/>
<circle cx="86.3" cy="87.1" r="1.6" fill="#1464ec"/>
<circle cx="87.7" cy="88.2" r="1.6" fill="#1464ec"/>
<circle cx="89.7" cy="89.4" r="1.6" fill="#1464ec"/>
<circle cx="91.1" cy="91.0" r="1.6" fill="#18d0f2"/>
<circle cx="92.6" cy="92.8" r="1.6" fill="#1464ec"/>
<circle cx="94.1" cy="93.7" r="1.6" fill="#1464ec"/>
<circle cx="95.9" cy="95.4" r="1.6" fill="#1464ec"/>
<circle cx="96.8" cy="97.1" r="1.6" fill="#1464ec"/>
<circle cx="98.4" cy="98.5" r="1.6" fill="#0a48f0"/>
<circle cx="100.7" cy="99.9" r="1.6" fill="#1464ec"/>
<circle cx="101.5" cy="101.3" r="1.6" fill="#1464ec"/>
<circle cx="103.8" cy="103.5" r="1.6" fill="#1464ec"/>
<circle cx="104.9" cy="104.4" r="1.6" fill="#1464ec"/>
<circle cx="106.3" cy="105.9" r="1.6" fill="#1464ec"/>
<circle cx="107.8" cy="108.2" r="1.6" fill="#18d0f2"/>
<circle cx="109.9" cy="109.8" r="1.6" fill="#1464ec"/>
<circle cx="111.3" cy="110.7" r="1.6" fill="#1464ec"/>
<circle cx="112.8" cy="112.5" r="1.6" fill="#1464ec"/>
<circle cx="114.8" cy="113.5" r="1.6" fill="#1464ec"/>
<circle cx="115.9" cy="115.6" r="1.6" fill="#1464ec"/>
<circle cx="117.7" cy="117.0" r="1.6" fill="#1464ec"/>
<circle cx="118.7" cy="118.8" r="1.6" fill="#1464ec"/>
<circle cx="120.2" cy="120.1" r="1.6" fill="#1464ec"/>
<circle cx="121.8" cy="120.9" r="1.6" fill="#18d0f2"/>
<circle cx="124.5" cy="124.4" r="1.6" fill="#1464ec"/>
<circle cx="126.8" cy="126.0" r="1.6" fill="#1464ec"/>
<circle cx="127.8" cy="127.2" r="1.6" fill="#18d0f2"/>
<circle cx="130.1" cy="131.2" r="1.6" fill="#1464ec"/>
<circle cx="131.9" cy="133.5" r="1.6" fill="#1464ec"/>
<circle cx="132.8" cy="135.7" r="1.6" fill="#1464ec"/>
<circle cx="134.1" cy="136.8" r="1.6" fill="#1464ec"/>
<circle cx="96.5" cy="83.9" r="1.6" fill="#1670ee"/>
<circle cx="97.7" cy="85.4" r="1.6" fill="#1670ee"/>
<circle cx="99.6" cy="87.1" r="1.6" fill="#1670ee"/>
<circle cx="101.1" cy="88.1" r="1.6" fill="#1670ee"/>
<circle cx="102.5" cy="90.0" r="1.6" fill="#1670ee"/>
<circle cx="104.2" cy="91.5" r="1.6" fill="#16a0f2"/>
<circle cx="105.7" cy="93.1" r="1.6" fill="#1670ee"/>
<circle cx="107.7" cy="94.5" r="1.6" fill="#1670ee"/>
<circle cx="109.4" cy="95.7" r="1.6" fill="#1670ee"/>
<circle cx="110.7" cy="97.6" r="1.6" fill="#1670ee"/>
<circle cx="112.3" cy="99.1" r="1.6" fill="#1670ee"/>
<circle cx="114.0" cy="100.1" r="1.6" fill="#1670ee"/>
<circle cx="115.4" cy="101.9" r="1.6" fill="#1670ee"/>
<circle cx="117.4" cy="103.5" r="1.6" fill="#1670ee"/>
<circle cx="118.7" cy="104.6" r="1.6" fill="#16a0f2"/>
<circle cx="120.3" cy="106.3" r="1.6" fill="#1670ee"/>
<circle cx="121.8" cy="108.4" r="1.6" fill="#18d0f2"/>
<circle cx="123.8" cy="109.3" r="1.6" fill="#1670ee"/>
<circle cx="124.8" cy="110.6" r="1.6" fill="#1670ee"/>
<circle cx="126.4" cy="111.3" r="1.6" fill="#1670ee"/>
<circle cx="128.5" cy="112.7" r="1.6" fill="#1670ee"/>
<circle cx="129.5" cy="114.4" r="1.6" fill="#1670ee"/>
<circle cx="131.6" cy="116.5" r="1.6" fill="#1670ee"/>
<circle cx="133.3" cy="118.3" r="1.6" fill="#1670ee"/>
<circle cx="135.3" cy="119.1" r="1.6" fill="#0a48f0"/>
<circle cx="136.2" cy="121.0" r="1.6" fill="#1670ee"/>
<circle cx="137.7" cy="123.2" r="1.6" fill="#18d0f2"/>
<circle cx="139.1" cy="123.7" r="1.6" fill="#1670ee"/>
<circle cx="141.0" cy="125.5" r="1.6" fill="#1670ee"/>
<circle cx="140.7" cy="127.7" r="1.6" fill="#30f0d8"/>
<circle cx="142.6" cy="129.6" r="1.6" fill="#1670ee"/>
<circle cx="143.5" cy="131.8" r="1.6" fill="#1670ee"/>
<circle cx="144.5" cy="133.8" r="1.6" fill="#18d0f2"/>
<circle cx="123.7" cy="95.7" r="1.6" fill="#16a0f2"/>
<circle cx="125.4" cy="97.5" r="1.6" fill="#1a84f0"/>
<circle cx="127.0" cy="98.7" r="1.6" fill="#1a84f0"/>
<circle cx="128.1" cy="100.4" r="1.6" fill="#1a84f0"/>
<circle cx="132.5" cy="105.0" r="1.6" fill="#1a84f0"/>
<circle cx="133.7" cy="106.5" r="1.6" fill="#1a84f0"/>
<circle cx="136.0" cy="107.4" r="1.6" fill="#1a84f0"/>
<circle cx="137.1" cy="108.9" r="1.6" fill="#1a84f0"/>
<circle cx="138.3" cy="110.1" r="1.6" fill="#1a84f0"/>
<circle cx="139.7" cy="112.6" r="1.6" fill="#1a84f0"/>
<circle cx="141.6" cy="114.0" r="1.6" fill="#6cf088"/>
<circle cx="142.6" cy="115.8" r="1.6" fill="#1a84f0"/>
<circle cx="145.1" cy="118.9" r="1.6" fill="#30f0d8"/>
<circle cx="147.3" cy="120.2" r="1.6" fill="#0a48f0"/>
<circle cx="148.2" cy="121.7" r="1.6" fill="#18d0f2"/>
<circle cx="150.1" cy="124.0" r="1.6" fill="#0a48f0"/>
<circle cx="151.0" cy="125.3" r="1.6" fill="#18d0f2"/>
<circle cx="152.6" cy="127.2" r="1.6" fill="#1a84f0"/>
<circle cx="154.3" cy="129.1" r="1.6" fill="#1a84f0"/>
<circle cx="157.3" cy="117.5" r="1.6" fill="#16a0f2"/>
<circle cx="157.8" cy="119.9" r="1.6" fill="#16a0f2"/>
<circle cx="161.9" cy="123.0" r="1.6" fill="#16a0f2"/>
<circle cx="163.0" cy="124.3" r="1.6" fill="#16a0f2"/>
<circle cx="164.9" cy="126.6" r="1.6" fill="#16a0f2"/>
<circle cx="130.8" cy="116.3" r="1.6" fill="#1464ec"/>
<circle cx="132.0" cy="117.8" r="1.6" fill="#1464ec"/>
<circle cx="133.3" cy="119.5" r="1.6" fill="#1464ec"/>
<circle cx="134.7" cy="121.2" r="1.6" fill="#1464ec"/>
<circle cx="136.2" cy="122.4" r="1.6" fill="#1464ec"/>
<circle cx="138.3" cy="123.7" r="1.6" fill="#18d0f2"/>
<circle cx="139.3" cy="125.7" r="1.6" fill="#1464ec"/>
<circle cx="141.1" cy="127.5" r="1.6" fill="#1464ec"/>
<circle cx="142.4" cy="128.9" r="1.6" fill="#1464ec"/>
<circle cx="143.4" cy="130.7" r="1.6" fill="#1464ec"/>
<circle cx="148.3" cy="111.5" r="1.6" fill="#16a0f2"/>
<circle cx="149.6" cy="112.9" r="1.6" fill="#16a0f2"/>
<circle cx="150.7" cy="115.3" r="1.6" fill="#16a0f2"/>
<circle cx="152.3" cy="116.4" r="1.6" fill="#16a0f2"/>
<circle cx="154.0" cy="118.0" r="1.6" fill="#16a0f2"/>
<circle cx="157.3" cy="122.1" r="1.6" fill="#16a0f2"/>
<circle cx="158.3" cy="123.1" r="1.6" fill="#16a0f2"/>
<circle cx="159.1" cy="124.8" r="1.6" fill="#18d0f2"/>
<circle cx="102.0" cy="122.5" r="1.6" fill="#1258e8"/>
<circle cx="103.0" cy="124.3" r="1.6" fill="#1258e8"/>
<circle cx="103.6" cy="126.2" r="1.6" fill="#30f0d8"/>
<circle cx="104.7" cy="127.8" r="1.6" fill="#1258e8"/>
<circle cx="107.0" cy="132.7" r="1.6" fill="#16a0f2"/>
<circle cx="107.0" cy="134.1" r="1.6" fill="#1258e8"/>
<circle cx="108.1" cy="136.6" r="1.6" fill="#30f0d8"/>
<circle cx="108.9" cy="138.7" r="1.6" fill="#1258e8"/>
<circle cx="109.6" cy="140.3" r="1.6" fill="#18d0f2"/>
<circle cx="111.1" cy="144.1" r="1.6" fill="#1258e8"/>
<circle cx="79.8" cy="39.1" r="1.35" fill="#0c18cc"/>
<circle cx="72.3" cy="44.3" r="1.35" fill="#0a48f0"/>
<circle cx="80.5" cy="43.1" r="1.35" fill="#6cf088"/>
<circle cx="79.8" cy="50.4" r="1.35" fill="#0c18cc"/>
<circle cx="83.3" cy="53.7" r="1.35" fill="#0c18cc"/>
<circle cx="43.7" cy="59.2" r="1.35" fill="#0a48f0"/>
<circle cx="49.2" cy="59.9" r="1.35" fill="#0a48f0"/>
<circle cx="59.8" cy="66.7" r="1.35" fill="#0a48f0"/>
<circle cx="50.8" cy="67.4" r="1.35" fill="#16a0f2"/>
<circle cx="45.6" cy="70.2" r="1.35" fill="#6cf088"/>
<circle cx="75.1" cy="65.0" r="1.35" fill="#0c18cc"/>
<circle cx="73.4" cy="64.6" r="1.35" fill="#18d0f2"/>
<circle cx="43.3" cy="78.7" r="1.35" fill="#0a48f0"/>
<circle cx="63.8" cy="77.3" r="1.35" fill="#0c18cc"/>
<circle cx="59.8" cy="78.7" r="1.35" fill="#0a48f0"/>
<circle cx="56.2" cy="82.0" r="1.35" fill="#18d0f2"/>
<circle cx="36.2" cy="87.4" r="1.35" fill="#0a48f0"/>
<circle cx="78.6" cy="70.2" r="1.35" fill="#0a48f0"/>
<circle cx="78.1" cy="73.3" r="1.35" fill="#18d0f2"/>
<circle cx="85.7" cy="68.6" r="1.35" fill="#18d0f2"/>
<circle cx="83.3" cy="72.1" r="1.35" fill="#6cf088"/>
<circle cx="90.4" cy="73.3" r="1.35" fill="#18d0f2"/>
<circle cx="92.8" cy="76.8" r="1.35" fill="#18d0f2"/>
<circle cx="78.6" cy="79.2" r="1.35" fill="#18d0f2"/>
<circle cx="82.2" cy="82.7" r="1.35" fill="#16a0f2"/>
<circle cx="73.9" cy="86.3" r="1.35" fill="#16a0f2"/>
<circle cx="78.6" cy="86.3" r="1.35" fill="#0c18cc"/>
<circle cx="85.7" cy="83.9" r="1.35" fill="#18d0f2"/>
<circle cx="89.2" cy="88.6" r="1.35" fill="#6cf088"/>
<circle cx="92.8" cy="86.3" r="1.35" fill="#18d0f2"/>
<circle cx="97.5" cy="80.4" r="1.35" fill="#18d0f2"/>
<circle cx="101.0" cy="78.0" r="1.35" fill="#16a0f2"/>
<circle cx="96.3" cy="91.4" r="1.35" fill="#30f0d8"/>
<circle cx="85.7" cy="94.5" r="1.35" fill="#c0f040"/>
<circle cx="90.4" cy="95.7" r="1.35" fill="#6cf088"/>
<circle cx="82.2" cy="91.0" r="1.35" fill="#18d0f2"/>
<circle cx="98.6" cy="98.0" r="1.35" fill="#6cf088"/>
<circle cx="95.1" cy="100.4" r="1.35" fill="#18d0f2"/>
<circle cx="75.1" cy="101.6" r="1.35" fill="#0c18cc"/>
<circle cx="75.1" cy="106.3" r="1.35" fill="#0c18cc"/>
<circle cx="81.0" cy="107.5" r="1.35" fill="#0c18cc"/>
<circle cx="88.0" cy="111.0" r="1.35" fill="#0c18cc"/>
<circle cx="92.8" cy="112.2" r="1.35" fill="#0a48f0"/>
<circle cx="98.6" cy="109.8" r="1.35" fill="#0c18cc"/>
<circle cx="53.9" cy="112.2" r="1.35" fill="#c0f040"/>
<circle cx="55.1" cy="107.5" r="1.35" fill="#6cf088"/>
<circle cx="65.7" cy="100.4" r="1.35" fill="#c0f040"/>
<circle cx="39.7" cy="105.1" r="1.35" fill="#18d0f2"/>
<circle cx="42.1" cy="108.6" r="1.35" fill="#30f0d8"/>
<circle cx="46.8" cy="111.0" r="1.35" fill="#18d0f2"/>
<circle cx="115.7" cy="62.2" r="1.35" fill="#18d0f2"/>
<circle cx="119.7" cy="68.6" r="1.35" fill="#18d0f2"/>
<circle cx="115.5" cy="70.2" r="1.35" fill="#18d0f2"/>
<circle cx="109.1" cy="73.3" r="1.35" fill="#18d0f2"/>
<circle cx="112.7" cy="75.6" r="1.35" fill="#6cf088"/>
<circle cx="111.5" cy="79.2" r="1.35" fill="#6cf088"/>
<circle cx="117.4" cy="75.6" r="1.35" fill="#0a48f0"/>
<circle cx="129.2" cy="70.2" r="1.35" fill="#18d0f2"/>
<circle cx="126.8" cy="71.6" r="1.35" fill="#18d0f2"/>
<circle cx="133.9" cy="68.1" r="1.35" fill="#18d0f2"/>
<circle cx="135.5" cy="67.4" r="1.35" fill="#18d0f2"/>
<circle cx="123.3" cy="74.5" r="1.35" fill="#6cf088"/>
<circle cx="140.9" cy="74.5" r="1.35" fill="#6cf088"/>
<circle cx="117.9" cy="83.4" r="1.35" fill="#0c18cc"/>
<circle cx="124.5" cy="85.8" r="1.35" fill="#18d0f2"/>
<circle cx="132.7" cy="85.1" r="1.35" fill="#18d0f2"/>
<circle cx="110.3" cy="85.1" r="1.35" fill="#18d0f2"/>
<circle cx="128.0" cy="90.5" r="1.35" fill="#c0f040"/>
<circle cx="120.9" cy="92.8" r="1.35" fill="#16a0f2"/>
<circle cx="117.4" cy="93.3" r="1.35" fill="#c0f040"/>
<circle cx="136.2" cy="92.8" r="1.35" fill="#0a48f0"/>
<circle cx="126.8" cy="98.0" r="1.35" fill="#c0f040"/>
<circle cx="130.3" cy="99.9" r="1.35" fill="#6cf088"/>
<circle cx="135.1" cy="98.0" r="1.35" fill="#30f0d8"/>
<circle cx="133.9" cy="101.6" r="1.35" fill="#6cf088"/>
<circle cx="115.0" cy="98.0" r="1.35" fill="#c0f040"/>
<circle cx="119.7" cy="102.7" r="1.35" fill="#0c18cc"/>
<circle cx="115.0" cy="106.3" r="1.35" fill="#0c18cc"/>
<circle cx="125.6" cy="103.9" r="1.35" fill="#0a48f0"/>
<circle cx="147.3" cy="103.5" r="1.35" fill="#0c18cc"/>
<circle cx="145.7" cy="107.0" r="1.35" fill="#18d0f2"/>
<circle cx="132.7" cy="107.5" r="1.35" fill="#6cf088"/>
<circle cx="136.2" cy="108.6" r="1.35" fill="#c0f040"/>
<circle cx="130.3" cy="111.0" r="1.35" fill="#18d0f2"/>
<circle cx="138.6" cy="112.6" r="1.35" fill="#0c18cc"/>
<circle cx="150.4" cy="112.2" r="1.35" fill="#18d0f2"/>
<circle cx="152.7" cy="114.5" r="1.35" fill="#18d0f2"/>
<circle cx="128.0" cy="112.6" r="1.35" fill="#0c18cc"/>
<circle cx="104.4" cy="83.9" r="1.35" fill="#18d0f2"/>
<circle cx="102.1" cy="80.4" r="1.35" fill="#18d0f2"/>
<circle cx="99.7" cy="86.3" r="1.35" fill="#16a0f2"/>
<circle cx="103.2" cy="91.0" r="1.35" fill="#0a48f0"/>
<circle cx="98.5" cy="95.7" r="1.35" fill="#18d0f2"/>
<circle cx="105.6" cy="100.4" r="1.35" fill="#16a0f2"/>
<circle cx="102.1" cy="105.1" r="1.35" fill="#18d0f2"/>
<circle cx="108.0" cy="107.5" r="1.35" fill="#30f0d8"/>
<circle cx="99.7" cy="111.0" r="1.35" fill="#0a48f0"/>
<circle cx="109.1" cy="112.2" r="1.35" fill="#c0f040"/>
<circle cx="96.8" cy="81.7" r="1.3" fill="#c0f040"/>
<circle cx="80.9" cy="76.9" r="1.3" fill="#18d0f2"/>
<circle cx="92.1" cy="72.3" r="1.3" fill="#16a0f2"/>
<circle cx="91.6" cy="76.8" r="1.3" fill="#6cf088"/>
<circle cx="93.4" cy="92.1" r="1.3" fill="#f0ee18"/>
<circle cx="98.9" cy="92.9" r="1.3" fill="#18d0f2"/>
<circle cx="94.8" cy="87.6" r="1.3" fill="#30f0d8"/>
<circle cx="95.8" cy="102.8" r="1.3" fill="#0a48f0"/>
<circle cx="99.5" cy="96.1" r="1.3" fill="#0a48f0"/>
<circle cx="98.8" cy="97.9" r="1.3" fill="#6cf088"/>
<circle cx="90.5" cy="74.6" r="1.3" fill="#30f0d8"/>
<circle cx="92.6" cy="78.2" r="1.3" fill="#16a0f2"/>
<circle cx="90.4" cy="95.1" r="1.3" fill="#6cf088"/>
<circle cx="93.4" cy="71.9" r="1.3" fill="#30f0d8"/>
<circle cx="100.1" cy="93.1" r="1.3" fill="#18d0f2"/>
<circle cx="96.5" cy="96.3" r="1.3" fill="#6cf088"/>
<circle cx="99.9" cy="100.3" r="1.3" fill="#c0f040"/>
<circle cx="95.3" cy="87.8" r="1.3" fill="#c0f040"/>
<circle cx="89.8" cy="83.7" r="1.3" fill="#18d0f2"/>
<circle cx="88.1" cy="100.6" r="1.3" fill="#18d0f2"/>
<circle cx="94.2" cy="73.7" r="1.3" fill="#16a0f2"/>
<circle cx="88.9" cy="82.2" r="1.3" fill="#30f0d8"/>
<circle cx="97.4" cy="95.2" r="1.3" fill="#18d0f2"/>
<circle cx="76.3" cy="83.9" r="1.3" fill="#6cf088"/>
<circle cx="98.5" cy="98.7" r="1.3" fill="#6cf088"/>
<circle cx="81.3" cy="69.9" r="1.3" fill="#18d0f2"/>
<circle cx="89.9" cy="73.4" r="1.3" fill="#30f0d8"/>
<circle cx="83.4" cy="87.0" r="1.3" fill="#18d0f2"/>
<circle cx="99.2" cy="88.5" r="1.3" fill="#18d0f2"/>
<circle cx="94.5" cy="78.3" r="1.3" fill="#30f0d8"/>
<circle cx="88.3" cy="69.4" r="1.3" fill="#16a0f2"/>
<circle cx="100.4" cy="90.8" r="1.3" fill="#30f0d8"/>
<circle cx="92.5" cy="94.5" r="1.3" fill="#18d0f2"/>
<circle cx="90.7" cy="79.4" r="1.3" fill="#16a0f2"/>
<circle cx="95.6" cy="92.5" r="1.3" fill="#6cf088"/>
<circle cx="78.9" cy="76.7" r="1.3" fill="#30f0d8"/>
<circle cx="93.9" cy="68.6" r="1.3" fill="#18d0f2"/>
<circle cx="98.8" cy="84.4" r="1.3" fill="#0a48f0"/>
<circle cx="100.3" cy="85.0" r="1.3" fill="#16a0f2"/>
<circle cx="97.2" cy="84.2" r="1.3" fill="#16a0f2"/>
<circle cx="95.0" cy="83.8" r="1.3" fill="#18d0f2"/>
<circle cx="100.8" cy="85.9" r="1.3" fill="#c0f040"/>
<circle cx="90.8" cy="81.9" r="1.3" fill="#18d0f2"/>
<circle cx="95.6" cy="82.2" r="1.3" fill="#30f0d8"/>
<circle cx="89.7" cy="76.4" r="1.3" fill="#18d0f2"/>
<circle cx="88.3" cy="94.4" r="1.3" fill="#6cf088"/>
<circle cx="97.3" cy="86.6" r="1.3" fill="#18d0f2"/>
<circle cx="88.0" cy="78.7" r="1.3" fill="#30f0d8"/>
<circle cx="91.6" cy="86.0" r="1.3" fill="#6cf088"/>
<circle cx="96.7" cy="94.1" r="1.3" fill="#6cf088"/>
<circle cx="88.4" cy="89.9" r="1.3" fill="#16a0f2"/>
<circle cx="91.3" cy="80.5" r="1.3" fill="#16a0f2"/>
<circle cx="95.7" cy="90.9" r="1.3" fill="#16a0f2"/>
<circle cx="88.7" cy="88.3" r="1.3" fill="#f0ee18"/>
<circle cx="95.0" cy="100.0" r="1.3" fill="#18d0f2"/>
<circle cx="84.5" cy="73.3" r="1.3" fill="#18d0f2"/>
<circle cx="81.1" cy="87.6" r="1.3" fill="#18d0f2"/>
<circle cx="96.5" cy="78.0" r="1.3" fill="#18d0f2"/>
<circle cx="79.3" cy="66.7" r="1.3" fill="#c0f040"/>
<circle cx="103.0" cy="93.2" r="1.3" fill="#18d0f2"/>
<circle cx="95.6" cy="92.0" r="1.3" fill="#18d0f2"/>
<circle cx="91.3" cy="86.5" r="1.3" fill="#18d0f2"/>
<circle cx="84.0" cy="72.1" r="1.3" fill="#30f0d8"/>
<circle cx="85.6" cy="86.0" r="1.3" fill="#16a0f2"/>
<circle cx="88.6" cy="87.9" r="1.3" fill="#18d0f2"/>
<circle cx="87.9" cy="70.6" r="1.3" fill="#18d0f2"/>
<circle cx="90.4" cy="82.1" r="1.3" fill="#18d0f2"/>
<circle cx="96.9" cy="78.9" r="1.3" fill="#30f0d8"/>
<circle cx="86.8" cy="73.9" r="1.3" fill="#18d0f2"/>
<circle cx="92.2" cy="80.6" r="1.3" fill="#f0ee18"/>
<circle cx="90.5" cy="73.1" r="1.3" fill="#18d0f2"/>
<circle cx="89.8" cy="73.1" r="1.3" fill="#30f0d8"/>
<circle cx="90.3" cy="75.3" r="1.3" fill="#18d0f2"/>
<circle cx="91.3" cy="76.6" r="1.3" fill="#18d0f2"/>
<circle cx="91.4" cy="78.2" r="1.3" fill="#18d0f2"/>
<circle cx="91.3" cy="80.1" r="1.3" fill="#18d0f2"/>
<circle cx="92.9" cy="81.6" r="1.3" fill="#18d0f2"/>
<circle cx="92.6" cy="83.9" r="1.3" fill="#18d0f2"/>
<circle cx="93.8" cy="85.0" r="1.3" fill="#18d0f2"/>
<circle cx="94.3" cy="86.5" r="1.3" fill="#18d0f2"/>
<circle cx="93.6" cy="87.8" r="1.3" fill="#18d0f2"/>
<circle cx="95.1" cy="89.4" r="1.3" fill="#18d0f2"/>
<circle cx="95.2" cy="90.7" r="1.3" fill="#18d0f2"/>
<circle cx="96.1" cy="92.1" r="1.3" fill="#18d0f2"/>
<circle cx="83.4" cy="96.0" r="1.25" fill="#6cf088"/>
<circle cx="83.7" cy="93.7" r="1.25" fill="#30f0d8"/>
<circle cx="85.3" cy="92.9" r="1.25" fill="#30f0d8"/>
<circle cx="85.6" cy="92.5" r="1.25" fill="#6cf088"/>
<circle cx="86.3" cy="90.9" r="1.25" fill="#f0ee18"/>
<circle cx="86.3" cy="90.9" r="1.25" fill="#6cf088"/>
<circle cx="89.3" cy="88.5" r="1.25" fill="#f0ee18"/>
<circle cx="89.4" cy="87.1" r="1.25" fill="#c0f040"/>
<circle cx="90.1" cy="87.3" r="1.25" fill="#30f0d8"/>
<circle cx="91.3" cy="84.0" r="1.25" fill="#f0ee18"/>
<circle cx="93.0" cy="83.9" r="1.25" fill="#6cf088"/>
<circle cx="93.8" cy="82.2" r="1.25" fill="#c0f040"/>
<circle cx="128.7" cy="93.1" r="1.3" fill="#c0f040"/>
<circle cx="137.6" cy="85.2" r="1.3" fill="#18d0f2"/>
<circle cx="120.8" cy="93.7" r="1.3" fill="#0a48f0"/>
<circle cx="120.8" cy="76.8" r="1.3" fill="#18d0f2"/>
<circle cx="124.3" cy="102.0" r="1.3" fill="#18d0f2"/>
<circle cx="132.4" cy="84.5" r="1.3" fill="#18d0f2"/>
<circle cx="128.9" cy="81.9" r="1.3" fill="#16a0f2"/>
<circle cx="127.9" cy="76.3" r="1.3" fill="#0a48f0"/>
<circle cx="115.9" cy="83.1" r="1.3" fill="#c0f040"/>
<circle cx="128.5" cy="91.1" r="1.3" fill="#16a0f2"/>
<circle cx="137.8" cy="91.7" r="1.3" fill="#18d0f2"/>
<circle cx="121.2" cy="82.2" r="1.3" fill="#18d0f2"/>
<circle cx="137.7" cy="83.6" r="1.3" fill="#30f0d8"/>
<circle cx="121.2" cy="69.9" r="1.3" fill="#18d0f2"/>
<circle cx="132.5" cy="99.7" r="1.3" fill="#6cf088"/>
<circle cx="116.2" cy="75.0" r="1.3" fill="#c0f040"/>
<circle cx="136.8" cy="85.4" r="1.3" fill="#16a0f2"/>
<circle cx="115.7" cy="90.7" r="1.3" fill="#18d0f2"/>
<circle cx="124.0" cy="100.5" r="1.3" fill="#18d0f2"/>
<circle cx="133.9" cy="88.0" r="1.3" fill="#18d0f2"/>
<circle cx="129.5" cy="99.2" r="1.3" fill="#18d0f2"/>
<circle cx="127.0" cy="96.1" r="1.3" fill="#18d0f2"/>
<circle cx="129.1" cy="86.9" r="1.3" fill="#18d0f2"/>
<line x1="75.2" y1="51.2" x2="90.6" y2="45.0" stroke="#606060" stroke-width="0.7"/>
<line x1="90.6" y1="45.0" x2="113.7" y2="59.0" stroke="#606060" stroke-width="0.7"/>
<line x1="113.7" y1="59.0" x2="98.5" y2="65.9" stroke="#606060" stroke-width="0.7"/>
<line x1="98.5" y1="65.9" x2="75.2" y2="51.2" stroke="#606060" stroke-width="0.7"/>
<line x1="75.2" y1="110.4" x2="90.6" y2="103.6" stroke="#606060" stroke-width="0.7"/>
<line x1="90.6" y1="103.6" x2="113.7" y2="117.0" stroke="#606060" stroke-width="0.7"/>
<line x1="113.7" y1="117.0" x2="98.5" y2="124.8" stroke="#606060" stroke-width="0.7"/>
<line x1="98.5" y1="124.8" x2="75.2" y2="110.4" stroke="#606060" stroke-width="0.7"/>
<line x1="75.2" y1="51.2" x2="75.2" y2="110.4" stroke="#606060" stroke-width="0.7"/>
<line x1="90.6" y1="45.0" x2="90.6" y2="103.6" stroke="#606060" stroke-width="0.7"/>
<line x1="113.7" y1="59.0" x2="113.7" y2="117.0" stroke="#606060" stroke-width="0.7"/>
<line x1="98.5" y1="65.9" x2="98.5" y2="124.8" stroke="#606060" stroke-width="0.7"/>
<polyline points="21.6,31.0 21.6,123.0 90.6,168.2 167.4,138.9" fill="none" stroke="#626262" stroke-width="0.9"/>
<line x1="21.6" y1="39.4" x2="19.6" y2="40.2" stroke="#626262" stroke-width="0.8"/>
<text x="18.1" y="40.8" text-anchor="end">0.5</text>
<line x1="21.6" y1="55.5" x2="19.6" y2="56.3" stroke="#626262" stroke-width="0.8"/>
<text x="18.1" y="56.9" text-anchor="end">0</text>
<line x1="21.6" y1="71.6" x2="19.6" y2="72.4" stroke="#626262" stroke-width="0.8"/>
<text x="18.1" y="73.0" text-anchor="end">-0.5</text>
<line x1="21.6" y1="87.7" x2="19.6" y2="88.5" stroke="#626262" stroke-width="0.8"/>
<text x="18.1" y="89.1" text-anchor="end">-1</text>
<line x1="21.6" y1="103.8" x2="19.6" y2="104.6" stroke="#626262" stroke-width="0.8"/>
<text x="18.1" y="105.2" text-anchor="end">-1.5</text>
<line x1="21.6" y1="119.9" x2="19.6" y2="120.7" stroke="#626262" stroke-width="0.8"/>
<text x="18.1" y="121.3" text-anchor="end">-2</text>
<line x1="28.2" y1="127.3" x2="26.7" y2="129.1" stroke="#626262" stroke-width="0.8"/>
<text x="21.9" y="136.8" text-anchor="middle">-1</text>
<line x1="51.2" y1="142.4" x2="49.7" y2="144.2" stroke="#626262" stroke-width="0.8"/>
<text x="44.9" y="151.9" text-anchor="middle">-2</text>
<line x1="74.2" y1="157.5" x2="72.7" y2="159.3" stroke="#626262" stroke-width="0.8"/>
<text x="67.9" y="167.0" text-anchor="middle">-3</text>
<line x1="96.4" y1="166.0" x2="97.6" y2="167.8" stroke="#626262" stroke-width="0.8"/>
<text x="101.6" y="175.4" text-anchor="middle">7</text>
<line x1="125.6" y1="154.8" x2="126.8" y2="156.6" stroke="#626262" stroke-width="0.8"/>
<text x="130.8" y="164.2" text-anchor="middle">8</text>
<line x1="154.8" y1="143.7" x2="156.0" y2="145.5" stroke="#626262" stroke-width="0.8"/>
<text x="160.0" y="153.1" text-anchor="middle">9</text>
</g>
<g transform="translate(185.5,185.3)" font-size="6.8" fill="#303030">
<line x1="96.4" y1="166.0" x2="27.4" y2="120.8" stroke="#e9e9e9" stroke-width="0.8"/>
<line x1="27.4" y1="120.8" x2="27.4" y2="32.6" stroke="#e9e9e9" stroke-width="0.8"/>
<line x1="125.6" y1="154.8" x2="56.6" y2="109.6" stroke="#e9e9e9" stroke-width="0.8"/>
<line x1="56.6" y1="109.6" x2="56.6" y2="21.4" stroke="#e9e9e9" stroke-width="0.8"/>
<line x1="154.8" y1="143.7" x2="85.8" y2="98.4" stroke="#e9e9e9" stroke-width="0.8"/>
<line x1="85.8" y1="98.4" x2="85.8" y2="10.3" stroke="#e9e9e9" stroke-width="0.8"/>
<line x1="28.2" y1="127.3" x2="105.0" y2="98.0" stroke="#e9e9e9" stroke-width="0.8"/>
<line x1="105.0" y1="98.0" x2="105.0" y2="9.8" stroke="#e9e9e9" stroke-width="0.8"/>
<line x1="51.2" y1="142.4" x2="128.0" y2="113.0" stroke="#e9e9e9" stroke-width="0.8"/>
<line x1="128.0" y1="113.0" x2="128.0" y2="24.9" stroke="#e9e9e9" stroke-width="0.8"/>
<line x1="74.2" y1="157.5" x2="151.0" y2="128.1" stroke="#e9e9e9" stroke-width="0.8"/>
<line x1="151.0" y1="128.1" x2="151.0" y2="40.0" stroke="#e9e9e9" stroke-width="0.8"/>
<line x1="21.6" y1="39.4" x2="98.4" y2="10.1" stroke="#e9e9e9" stroke-width="0.8"/>
<line x1="98.4" y1="10.1" x2="167.4" y2="55.3" stroke="#e9e9e9" stroke-width="0.8"/>
<line x1="21.6" y1="55.5" x2="98.4" y2="26.2" stroke="#e9e9e9" stroke-width="0.8"/>
<line x1="98.4" y1="26.2" x2="167.4" y2="71.4" stroke="#e9e9e9" stroke-width="0.8"/>
<line x1="21.6" y1="71.6" x2="98.4" y2="42.3" stroke="#e9e9e9" stroke-width="0.8"/>
<line x1="98.4" y1="42.3" x2="167.4" y2="87.5" stroke="#e9e9e9" stroke-width="0.8"/>
<line x1="21.6" y1="87.7" x2="98.4" y2="58.4" stroke="#e9e9e9" stroke-width="0.8"/>
<line x1="98.4" y1="58.4" x2="167.4" y2="103.6" stroke="#e9e9e9" stroke-width="0.8"/>
<line x1="21.6" y1="103.8" x2="98.4" y2="74.5" stroke="#e9e9e9" stroke-width="0.8"/>
<line x1="98.4" y1="74.5" x2="167.4" y2="119.7" stroke="#e9e9e9" stroke-width="0.8"/>
<line x1="21.6" y1="119.9" x2="98.4" y2="90.6" stroke="#e9e9e9" stroke-width="0.8"/>
<line x1="98.4" y1="90.6" x2="167.4" y2="135.8" stroke="#e9e9e9" stroke-width="0.8"/>
<polyline points="26.3,109.3 26.6,109.5 26.8,109.8 27.2,110.1 27.6,110.4 28.0,110.8 28.4,111.2 28.9,111.6 29.4,112.1 29.9,112.5 30.4,113.0 30.9,113.5 31.4,114.0 31.9,114.4 32.5,114.9 33.0,115.4 33.5,115.9 34.0,116.3 34.5,116.8 34.9,117.2 35.4,117.6 35.8,118.1 36.3,118.6 36.8,119.1 37.3,119.6 37.8,120.1 38.3,120.6 38.8,121.0 39.3,121.5 39.8,122.0 40.2,122.5 40.7,122.9 41.1,123.3 41.5,123.7 41.9,124.1 42.2,124.4 42.5,124.7 42.8,125.0 43.8,125.9 44.1,126.1 44.3,126.1" fill="none" stroke="#28a8f2" stroke-width="3.3" stroke-linecap="round" stroke-linejoin="round" stroke-dasharray="0.01 1.6"/>
<polyline points="32.6,106.2 32.9,106.4 33.2,106.7 33.5,107.0 33.9,107.3 34.3,107.7 34.7,108.1 35.2,108.5 35.7,109.0 36.2,109.4 36.7,109.9 37.2,110.4 37.8,110.8 38.3,111.3 38.8,111.8 39.3,112.3 39.8,112.7 40.3,113.2 40.8,113.6 41.2,114.0 41.7,114.5 42.2,114.9 42.6,115.4 43.1,115.8 43.5,116.2 44.0,116.7 44.4,117.1 44.8,117.5 45.3,118.0 45.7,118.4 46.1,118.9 46.6,119.3 47.0,119.7 47.4,120.2 47.9,120.6 48.3,121.1 48.7,121.5 49.1,122.0 49.6,122.4 50.0,122.9 50.4,123.3 50.8,123.8 51.2,124.3 51.6,124.7 52.1,125.2 52.5,125.6 52.9,126.1 53.3,126.6 53.7,127.0 54.1,127.5 54.5,128.0 54.9,128.4 55.3,128.9 55.7,129.4 56.2,129.9 56.6,130.5 57.1,131.1 57.5,131.6 58.0,132.2 58.4,132.8 58.9,133.3 59.3,133.9 59.7,134.4 60.1,134.9 60.5,135.4 60.8,135.8 61.1,136.2 61.4,136.5 61.6,136.8" fill="none" stroke="#28a8f2" stroke-width="3.3" stroke-linecap="round" stroke-linejoin="round" stroke-dasharray="0.01 1.6"/>
<polyline points="38.8,103.8 39.1,104.0 39.4,104.3 39.7,104.6 40.1,104.9 40.5,105.2 41.0,105.6 41.5,106.0 42.0,106.4 42.5,106.8 43.0,107.2 43.6,107.7 44.1,108.1 44.7,108.6 45.2,109.0 45.8,109.5 46.3,109.9 46.8,110.4 47.3,110.8 47.8,111.3 48.3,111.7 48.8,112.1 49.2,112.5 49.6,112.9 50.1,113.4 50.5,113.8 51.0,114.2 51.4,114.6 51.8,115.1 52.3,115.5 52.7,115.9 53.1,116.3 53.6,116.8 54.0,117.2 54.4,117.6 54.8,118.1 55.2,118.5 55.7,119.0 56.1,119.4 56.5,119.9 56.9,120.3 57.3,120.8 57.7,121.2 58.1,121.7 58.5,122.1 58.9,122.6 59.3,123.0 59.7,123.5 60.1,123.9 60.5,124.4 60.9,124.9 61.3,125.3 61.7,125.8 62.1,126.3 62.4,126.7 62.8,127.2 63.2,127.7 63.6,128.2 64.0,128.7 64.3,129.2 64.7,129.7 65.1,130.2 65.4,130.7 65.8,131.2 66.1,131.8 66.5,132.3 66.9,132.9 67.2,133.5 67.6,134.0 68.0,134.6 68.3,135.2 68.7,135.7 69.0,136.3 69.4,136.8 69.7,137.4 70.0,137.9 70.3,138.4 70.7,138.9 71.0,139.4 71.3,139.8 71.5,140.2 71.8,140.6 72.3,141.3 72.8,142.0 73.3,142.6 73.8,143.2 74.2,143.6 74.6,144.1 74.9,144.4 75.2,144.8 75.5,145.0 75.7,145.3" fill="none" stroke="#28a8f2" stroke-width="3.3" stroke-linecap="round" stroke-linejoin="round" stroke-dasharray="0.01 1.6"/>
<polyline points="46.7,100.7 47.0,100.9 47.4,101.1 47.8,101.4 48.3,101.7 48.8,102.0 49.3,102.3 49.9,102.7 50.5,103.1 51.1,103.5 51.7,103.9 52.3,104.3 52.9,104.7 53.5,105.2 54.0,105.6 54.5,106.0 54.9,106.4 55.4,106.8 55.8,107.3 56.2,107.7 56.6,108.2 57.0,108.6 57.4,109.1 57.8,109.6 58.2,110.1 58.6,110.5 59.0,111.0 59.3,111.5 59.7,112.0 60.1,112.4 60.4,112.9 60.8,113.3 61.2,113.8 61.6,114.3 62.0,114.8 62.4,115.3 62.8,115.8 63.2,116.2 63.5,116.7 63.9,117.1 64.3,117.6 64.7,118.1 65.1,118.6 65.5,119.1 66.0,119.6 66.4,120.0 66.8,120.4 67.2,120.8 67.6,121.3 68.1,121.7 68.5,122.1 69.0,122.6 69.4,123.0 69.9,123.5 70.3,123.9 70.8,124.4 71.2,124.8 71.7,125.2 72.1,125.7 72.5,126.1 72.9,126.5 73.3,126.9 73.8,127.4 74.2,127.9 74.7,128.5 75.2,129.0 75.6,129.5 76.0,130.0 76.4,130.5 76.8,131.0 77.2,131.4 77.6,131.9 77.9,132.4 78.3,132.8 78.6,133.2 79.1,133.8 79.5,134.3 79.8,134.7 80.2,135.0 80.5,135.5 80.8,136.0 81.2,136.6 81.7,137.4 81.9,137.8 82.2,138.3 82.4,138.7 82.7,139.3 82.9,139.8 83.2,140.4 83.5,141.0 83.8,141.6 84.1,142.2 84.3,142.8 84.6,143.4 84.9,144.1 85.2,144.7 85.5,145.2 85.7,145.8 86.0,146.3 86.2,146.8 86.5,147.3 86.7,147.7 87.1,148.5 87.6,149.2 88.0,149.9 88.4,150.4 88.7,150.9 89.1,151.4 89.4,151.8 89.6,152.1 89.8,152.4" fill="none" stroke="#1c8cee" stroke-width="3.3" stroke-linecap="round" stroke-linejoin="round" stroke-dasharray="0.01 1.6"/>
<polyline points="56.0,96.5 56.3,96.7 56.7,96.9 57.2,97.2 57.7,97.5 58.3,97.9 58.9,98.3 59.5,98.7 60.2,99.2 60.8,99.7 61.2,100.0 61.6,100.4 62.0,100.8 62.4,101.2 62.9,101.6 63.3,102.1 63.7,102.5 64.2,103.0 64.6,103.5 65.1,104.0 65.6,104.5 66.1,105.0 66.6,105.5 67.1,106.0 67.5,106.4 67.9,106.8 68.3,107.2 68.8,107.7 69.2,108.1 69.7,108.6 70.1,109.1 70.6,109.5 71.1,110.0 71.5,110.5 72.0,110.9 72.5,111.4 72.9,111.9 73.4,112.3 73.8,112.8 74.2,113.2 74.6,113.6 75.0,114.0 75.4,114.4 76.0,115.0 76.5,115.5 77.0,116.1 77.4,116.6" fill="none" stroke="#1668ea" stroke-width="3.1" stroke-linecap="round" stroke-linejoin="round" stroke-dasharray="0.01 1.9"/>
<polyline points="81.2,120.6 81.7,121.1 82.1,121.5 82.6,121.9 83.0,122.3 83.5,122.8 83.9,123.2 84.4,123.7 84.9,124.3 85.2,124.7 85.6,125.1 85.9,125.5 86.3,126.0 86.7,126.5 87.1,126.9 87.4,127.4 87.8,127.9 88.2,128.4 88.6,128.9 89.0,129.5 89.3,130.0 89.7,130.5 90.1,131.1 90.4,131.6 90.7,132.0 91.0,132.5 91.3,133.0 91.6,133.5 91.9,134.0 92.2,134.5 92.5,135.0 92.8,135.5 93.1,136.0 93.4,136.6 93.7,137.1 94.0,137.7 94.3,138.2 94.6,138.8 95.0,139.4 95.3,140.0 95.6,140.5 95.9,141.0 96.2,141.5 96.5,142.1 96.8,142.7 97.1,143.3 97.4,143.9 97.8,144.5 98.1,145.1 98.4,145.7 98.8,146.4 99.1,147.0 99.4,147.5 99.7,148.1 100.0,148.7 100.3,149.2 100.6,149.7 100.8,150.2 101.1,150.6 101.3,151.0 101.4,151.3 101.6,151.6" fill="none" stroke="#1668ea" stroke-width="3.1" stroke-linecap="round" stroke-linejoin="round" stroke-dasharray="0.01 1.9"/>
<polyline points="67.1,92.8 67.3,93.0 67.6,93.3 67.9,93.7 68.3,94.0 68.7,94.4 69.1,94.8 69.5,95.3 70.0,95.8 70.5,96.2 70.9,96.7 71.4,97.3 71.9,97.8 72.5,98.3 73.0,98.8 73.5,99.3 74.0,99.8 74.4,100.3 74.9,100.8 75.4,101.2 75.8,101.6 76.2,102.0 76.7,102.5 77.2,103.0 77.7,103.4 78.2,103.9 78.7,104.3 79.2,104.7 79.7,105.1 80.2,105.5 80.7,105.9 81.1,106.3 81.6,106.7 82.0,107.1 82.4,107.4 82.8,107.7 83.1,108.1 83.5,108.4 84.1,108.9 84.5,109.3 84.8,109.7 85.1,110.0" fill="none" stroke="#1450e8" stroke-width="3.1" stroke-linecap="round" stroke-linejoin="round" stroke-dasharray="0.01 1.9"/>
<polyline points="93.6,119.4 94.0,119.9 94.5,120.4 94.9,120.9 95.3,121.4 95.7,121.9 96.1,122.4 96.5,122.9 96.9,123.3 97.3,123.8 97.8,124.3 98.2,124.9 98.6,125.4 99.0,125.9 99.4,126.4 99.8,126.9 100.2,127.5 100.6,128.0 101.0,128.5 101.4,129.0 101.8,129.4 102.1,129.9 102.5,130.4 102.9,130.9 103.2,131.3 103.5,131.7 103.9,132.2 104.2,132.6 104.5,133.0 105.0,133.6 105.5,134.2 105.9,134.8 106.3,135.3 106.7,135.7 107.0,136.2 107.4,136.7 107.7,137.1 108.1,137.6 108.5,138.1 108.8,138.6 109.2,139.2 109.5,139.7 109.9,140.2 110.2,140.8 110.6,141.4 110.9,142.0 111.3,142.6 111.7,143.2 112.0,143.8 112.4,144.4 112.7,145.0 113.0,145.5 113.3,146.0 113.5,146.4 113.7,146.8 113.9,147.1" fill="none" stroke="#1450e8" stroke-width="3.1" stroke-linecap="round" stroke-linejoin="round" stroke-dasharray="0.01 1.9"/>
<polyline points="72.0,91.8 72.3,92.0 72.6,92.2 73.0,92.4 73.4,92.7 73.9,93.0 74.6,93.5 75.3,94.0 76.2,94.7 76.5,95.0 76.9,95.3 77.3,95.6 77.7,96.0 78.2,96.3 78.7,96.7 79.1,97.1 79.6,97.5 80.1,98.0 80.7,98.4 81.2,98.9 81.7,99.3 82.2,99.8 82.8,100.2 83.3,100.7 83.8,101.1 84.3,101.5 84.8,102.0 85.3,102.4 85.8,102.8 86.3,103.2 86.7,103.5 87.1,103.9 87.7,104.4 88.2,104.8 88.7,105.3 89.2,105.7 89.7,106.2 90.2,106.6 90.7,107.0 91.1,107.4 91.6,107.8 92.0,108.2 92.4,108.5 92.9,108.9 93.3,109.3 93.7,109.6 94.1,110.0 94.5,110.3" fill="none" stroke="#1450e8" stroke-width="3.1" stroke-linecap="round" stroke-linejoin="round" stroke-dasharray="0.01 1.9"/>
<polyline points="98.1,113.1 98.6,113.5 99.1,113.8 99.6,114.2 100.2,114.7 100.6,115.0 101.1,115.3 101.5,115.7 102.0,116.0 102.5,116.4 103.1,116.7 103.6,117.1 104.2,117.5 104.7,117.8 105.3,118.2 105.8,118.6 106.4,119.0 106.9,119.4 107.4,119.8 107.9,120.2 108.4,120.6 108.8,121.0 109.2,121.4 109.6,121.8 110.0,122.3 110.4,122.8 110.8,123.3 111.1,123.9 111.3,124.4 111.6,124.9 111.8,125.5 112.1,126.0 112.3,126.6 112.5,127.1 112.7,127.7 113.0,128.2 113.3,128.7 113.6,129.3 113.9,129.8 114.2,130.3 114.6,130.8 115.0,131.3 115.4,131.9 115.8,132.4 116.2,132.9 116.6,133.4 117.1,134.0 117.5,134.5 117.9,135.0 118.3,135.5 118.7,136.0 119.1,136.4 119.5,136.9 119.9,137.3 120.2,137.7 120.7,138.3 121.2,138.9 121.7,139.5 122.1,140.0 122.5,140.5 122.9,141.0 123.3,141.4 123.6,141.8 123.9,142.1 124.1,142.4" fill="none" stroke="#1450e8" stroke-width="3.1" stroke-linecap="round" stroke-linejoin="round" stroke-dasharray="0.01 1.9"/>
<polyline points="84.5,85.7 84.8,85.9 85.1,86.2 85.4,86.4 85.8,86.7 86.2,87.1 86.6,87.4 87.1,87.8 87.6,88.2 88.1,88.6 88.6,89.0 89.1,89.4 89.7,89.9 90.2,90.3 90.8,90.8 91.3,91.2" fill="none" stroke="#1450e8" stroke-width="3.1" stroke-linecap="round" stroke-linejoin="round" stroke-dasharray="0.01 1.9"/>
<polyline points="98.2,97.7 98.6,98.2 99.0,98.6 99.4,99.0 99.9,99.5 100.3,99.9 100.7,100.4 101.2,100.8 101.6,101.3 102.0,101.7 102.4,102.1 102.9,102.6 103.3,103.0 103.7,103.4 104.2,103.9 104.6,104.3 105.1,104.8 105.6,105.2 106.0,105.7 106.5,106.2 107.0,106.6 107.4,107.1 107.9,107.6 108.4,108.0 108.8,108.5 109.3,108.9 109.7,109.4 110.2,109.8 110.6,110.2 111.0,110.6 111.4,111.0 111.8,111.4 112.1,111.7 112.5,112.1 112.8,112.4 113.5,113.1" fill="none" stroke="#1450e8" stroke-width="3.1" stroke-linecap="round" stroke-linejoin="round" stroke-dasharray="0.01 1.9"/>
<polyline points="116.2,115.7 116.6,116.1 117.0,116.5 117.5,117.0 117.9,117.4 118.4,117.8 118.8,118.3 119.3,118.7 119.7,119.2 120.2,119.6 120.7,120.1 121.2,120.6 121.6,121.0 122.0,121.3 122.5,121.7 122.9,122.1 123.4,122.5 123.8,122.8 124.3,123.2 124.7,123.6 125.2,124.1 125.6,124.5 126.1,125.0 126.5,125.5 126.9,126.0 127.2,126.5 127.6,127.0 127.9,127.5 128.3,128.1 128.6,128.7 129.0,129.3 129.3,129.8 129.7,130.4 130.0,131.0 130.3,131.5 130.6,132.1 130.9,132.5 131.2,133.0 131.6,133.7 132.1,134.3 132.5,134.9 132.9,135.5 133.2,136.1 133.6,136.6 133.9,137.0 134.1,137.4 134.3,137.7" fill="none" stroke="#1450e8" stroke-width="3.1" stroke-linecap="round" stroke-linejoin="round" stroke-dasharray="0.01 1.9"/>
<polyline points="98.0,85.5 98.4,85.9 98.8,86.3 99.3,86.7 99.7,87.1 100.2,87.6 100.7,88.0 101.2,88.5 101.7,89.0 102.2,89.5 102.7,90.0 103.2,90.5 103.7,91.0 104.2,91.5 104.7,92.0 105.2,92.5 105.7,93.0 106.2,93.4 106.7,93.9 107.1,94.3 107.6,94.7 108.0,95.1 108.5,95.6 109.0,96.0 109.5,96.5 110.0,97.0 110.5,97.4 111.0,97.9 111.5,98.3 112.0,98.7 112.5,99.2 112.9,99.6 113.4,100.0 113.9,100.4 114.3,100.8 114.8,101.2 115.2,101.6 115.6,102.0 116.0,102.3 116.4,102.7 116.8,103.0 117.2,103.4 117.5,103.7 118.1,104.3 118.6,104.8 119.1,105.3 119.5,105.7" fill="none" stroke="#1450e8" stroke-width="3.1" stroke-linecap="round" stroke-linejoin="round" stroke-dasharray="0.01 1.9"/>
<polyline points="121.0,107.3 121.4,107.6 121.8,108.0 122.2,108.4 122.7,108.8 123.2,109.2 123.7,109.5" fill="none" stroke="#1450e8" stroke-width="3.1" stroke-linecap="round" stroke-linejoin="round" stroke-dasharray="0.01 1.9"/>
<polyline points="127.7,112.4 128.2,112.8 128.6,113.2 129.0,113.6 129.4,114.0 129.8,114.4 130.2,114.8 130.6,115.3 131.1,115.8 131.6,116.3 132.0,116.7 132.4,117.1 132.8,117.5 133.3,117.9 133.8,118.4 134.3,118.8 134.8,119.3 135.3,119.8 135.8,120.2 136.2,120.7 136.7,121.2 137.1,121.6 137.5,122.1 137.9,122.5 138.4,123.1 138.8,123.6 139.2,124.2 139.6,124.7 139.9,125.3 140.2,125.8 140.5,126.4 140.9,126.9 141.2,127.4 141.5,128.0 141.8,128.6 142.2,129.2 142.5,129.9 142.9,130.5 143.2,131.2 143.5,131.8 143.8,132.4 144.1,132.9 144.3,133.4 144.5,133.7" fill="none" stroke="#1450e8" stroke-width="3.1" stroke-linecap="round" stroke-linejoin="round" stroke-dasharray="0.01 1.9"/>
<polyline points="123.7,95.9 124.0,96.2 124.3,96.5 124.6,96.8 125.1,97.3 125.5,97.7 126.0,98.2 126.5,98.7 127.1,99.2 127.6,99.7 128.1,100.3 128.6,100.8 129.1,101.3 129.6,101.8 130.1,102.2 130.5,102.6" fill="none" stroke="#1660ea" stroke-width="3.1" stroke-linecap="round" stroke-linejoin="round" stroke-dasharray="0.01 1.9"/>
<polyline points="133.3,106.2 133.6,106.5 134.0,106.9 134.6,107.3 135.2,107.5 135.7,107.6 136.4,107.9" fill="none" stroke="#1660ea" stroke-width="3.1" stroke-linecap="round" stroke-linejoin="round" stroke-dasharray="0.01 1.9"/>
<polyline points="140.1,112.5 140.6,113.1 141.0,113.6 141.4,114.2 141.8,114.7 142.2,115.2 142.6,115.7 143.1,116.2 143.5,116.6 144.0,117.1 144.4,117.6 144.9,118.1 145.3,118.5 145.7,119.0 146.2,119.5 146.6,119.9 147.0,120.4 147.4,120.9 147.9,121.4 148.4,122.0 148.8,122.5 149.3,123.0 149.7,123.5 150.1,124.0 150.5,124.5 150.9,125.0 151.3,125.5 151.6,125.9 152.1,126.5 152.5,127.2 152.9,127.8 153.3,128.3 153.6,128.8 153.8,129.2 154.0,129.5" fill="none" stroke="#1660ea" stroke-width="3.1" stroke-linecap="round" stroke-linejoin="round" stroke-dasharray="0.01 1.9"/>
<polyline points="157.1,118.0 157.4,118.3 157.7,118.6 158.1,119.0 158.6,119.5 159.1,120.0 159.6,120.5 160.1,121.0 160.6,121.5 161.0,122.0 161.5,122.5 162.0,123.1 162.5,123.6 163.0,124.2 163.5,124.7 163.9,125.2 164.2,125.6 164.5,125.9" fill="none" stroke="#28a8f2" stroke-width="3.1" stroke-linecap="round" stroke-linejoin="round" stroke-dasharray="0.01 1.9"/>
<polyline points="99.8,96.9 100.1,97.1 100.4,97.4 100.8,97.7 101.2,98.0 101.6,98.3 102.1,98.7 102.6,99.1 103.1,99.5 103.7,99.9 104.2,100.3" fill="none" stroke="#1450e8" stroke-width="3.1" stroke-linecap="round" stroke-linejoin="round" stroke-dasharray="0.01 1.9"/>
<polyline points="109.0,104.3 109.4,104.8 109.9,105.3 110.4,105.7 110.9,106.2 111.5,106.8 112.0,107.3 112.5,107.8 112.9,108.3 113.4,108.8 113.9,109.3 114.3,109.7 114.7,110.2 115.1,110.6 115.5,110.9 115.8,111.3 116.1,111.6 116.3,111.8" fill="none" stroke="#1450e8" stroke-width="3.1" stroke-linecap="round" stroke-linejoin="round" stroke-dasharray="0.01 1.9"/>
<circle cx="95.5" cy="89.7" r="1.2" fill="#20c0f2"/>
<circle cx="93.3" cy="94.1" r="1.2" fill="#20c0f2"/>
<circle cx="91.4" cy="67.4" r="1.2" fill="#16a0f2"/>
<circle cx="96.8" cy="100.2" r="1.2" fill="#18d0f2"/>
<circle cx="95.4" cy="83.9" r="1.2" fill="#16a0f2"/>
<circle cx="96.4" cy="66.8" r="1.2" fill="#18d0f2"/>
<circle cx="97.2" cy="76.8" r="1.2" fill="#18d0f2"/>
<circle cx="94.7" cy="96.3" r="1.2" fill="#18d0f2"/>
<circle cx="95.7" cy="89.5" r="1.2" fill="#20c0f2"/>
<circle cx="95.0" cy="74.2" r="1.2" fill="#18d0f2"/>
<circle cx="97.0" cy="103.3" r="1.2" fill="#20c0f2"/>
<circle cx="94.6" cy="86.6" r="1.2" fill="#16a0f2"/>
<circle cx="97.0" cy="74.0" r="1.2" fill="#20c0f2"/>
<circle cx="95.3" cy="99.9" r="1.2" fill="#18d0f2"/>
<circle cx="95.6" cy="79.9" r="1.2" fill="#18d0f2"/>
<circle cx="95.8" cy="77.6" r="1.2" fill="#16a0f2"/>
<circle cx="94.1" cy="66.4" r="1.2" fill="#18d0f2"/>
<circle cx="94.8" cy="97.1" r="1.2" fill="#18d0f2"/>
<circle cx="92.9" cy="78.2" r="1.2" fill="#18d0f2"/>
<circle cx="96.4" cy="103.0" r="1.2" fill="#18d0f2"/>
<circle cx="96.0" cy="94.5" r="1.2" fill="#30f0d8"/>
<circle cx="95.0" cy="80.1" r="1.2" fill="#16a0f2"/>
<circle cx="95.5" cy="66.6" r="1.2" fill="#20c0f2"/>
<circle cx="95.2" cy="73.7" r="1.2" fill="#30f0d8"/>
<circle cx="97.3" cy="101.3" r="1.2" fill="#18d0f2"/>
<circle cx="95.0" cy="86.0" r="1.2" fill="#30f0d8"/>
<circle cx="94.8" cy="70.3" r="1.2" fill="#20c0f2"/>
<circle cx="92.2" cy="67.7" r="1.2" fill="#20c0f2"/>
<circle cx="93.7" cy="69.7" r="1.2" fill="#20c0f2"/>
<circle cx="96.8" cy="79.1" r="1.2" fill="#20c0f2"/>
<circle cx="95.0" cy="86.8" r="1.2" fill="#18d0f2"/>
<circle cx="95.9" cy="69.2" r="1.2" fill="#18d0f2"/>
<circle cx="96.6" cy="92.2" r="1.2" fill="#18d0f2"/>
<circle cx="96.2" cy="103.4" r="1.2" fill="#16a0f2"/>
<circle cx="95.4" cy="81.6" r="1.2" fill="#20c0f2"/>
<circle cx="97.2" cy="83.4" r="1.2" fill="#18d0f2"/>
<circle cx="95.0" cy="68.4" r="1.2" fill="#18d0f2"/>
<circle cx="95.8" cy="97.9" r="1.2" fill="#18d0f2"/>
<circle cx="97.7" cy="93.8" r="1.2" fill="#30f0d8"/>
<circle cx="94.2" cy="70.3" r="1.2" fill="#18d0f2"/>
<circle cx="95.5" cy="71.9" r="1.2" fill="#18d0f2"/>
<circle cx="95.2" cy="103.9" r="1.2" fill="#20c0f2"/>
<circle cx="94.6" cy="103.0" r="1.2" fill="#30f0d8"/>
<circle cx="95.9" cy="84.3" r="1.2" fill="#18d0f2"/>
<circle cx="96.1" cy="81.5" r="1.2" fill="#20c0f2"/>
<circle cx="97.2" cy="102.4" r="1.2" fill="#16a0f2"/>
<circle cx="95.1" cy="85.1" r="1.2" fill="#18d0f2"/>
<circle cx="96.4" cy="95.7" r="1.2" fill="#20c0f2"/>
<circle cx="95.8" cy="79.9" r="1.2" fill="#16a0f2"/>
<circle cx="93.3" cy="91.3" r="1.2" fill="#30f0d8"/>
<circle cx="94.9" cy="80.0" r="1.2" fill="#18d0f2"/>
<circle cx="94.7" cy="95.3" r="1.2" fill="#16a0f2"/>
<circle cx="97.0" cy="77.3" r="1.2" fill="#16a0f2"/>
<circle cx="94.0" cy="66.7" r="1.2" fill="#16a0f2"/>
<circle cx="94.3" cy="75.7" r="1.2" fill="#20c0f2"/>
<circle cx="94.3" cy="90.7" r="1.2" fill="#30f0d8"/>
<circle cx="93.8" cy="79.4" r="1.2" fill="#20c0f2"/>
<circle cx="93.4" cy="79.5" r="1.2" fill="#20c0f2"/>
<circle cx="94.5" cy="99.0" r="1.2" fill="#20c0f2"/>
<circle cx="91.9" cy="85.8" r="1.2" fill="#16a0f2"/>
<circle cx="96.6" cy="72.5" r="1.2" fill="#18d0f2"/>
<circle cx="92.9" cy="92.3" r="1.2" fill="#30f0d8"/>
<circle cx="96.9" cy="93.8" r="1.2" fill="#16a0f2"/>
<circle cx="97.9" cy="91.3" r="1.2" fill="#18d0f2"/>
<circle cx="95.9" cy="89.8" r="1.2" fill="#30f0d8"/>
<circle cx="92.7" cy="67.3" r="1.2" fill="#18d0f2"/>
<circle cx="94.8" cy="82.9" r="1.2" fill="#16a0f2"/>
<circle cx="94.8" cy="90.0" r="1.2" fill="#18d0f2"/>
<circle cx="95.5" cy="84.0" r="1.2" fill="#18d0f2"/>
<circle cx="95.6" cy="78.2" r="1.2" fill="#18d0f2"/>
<circle cx="92.0" cy="96.1" r="1.25" fill="#c0f040"/>
<circle cx="93.1" cy="98.5" r="1.25" fill="#6cf088"/>
<circle cx="93.7" cy="101.1" r="1.25" fill="#c0f040"/>
<circle cx="91.2" cy="93.7" r="1.25" fill="#30f0d8"/>
<circle cx="94.3" cy="103.2" r="1.25" fill="#30f0d8"/>
<circle cx="96.7" cy="98.5" r="1.25" fill="#0c18cc"/>
<circle cx="96.7" cy="105.5" r="1.25" fill="#0c18cc"/>
<circle cx="95.9" cy="107.9" r="1.25" fill="#6cf088"/>
<circle cx="89.6" cy="91.4" r="1.25" fill="#18d0f2"/>
<circle cx="88.0" cy="89.8" r="1.25" fill="#18d0f2"/>
<circle cx="35.7" cy="62.7" r="1.3" fill="#0c18cc"/>
<circle cx="73.9" cy="51.6" r="1.3" fill="#0c18cc"/>
<circle cx="72.9" cy="53.0" r="1.3" fill="#0a48f0"/>
<circle cx="65.9" cy="65.0" r="1.3" fill="#30f0d8"/>
<circle cx="71.1" cy="63.4" r="1.3" fill="#0a48f0"/>
<circle cx="82.8" cy="61.0" r="1.3" fill="#0a48f0"/>
<circle cx="86.4" cy="60.3" r="1.3" fill="#0c18cc"/>
<circle cx="89.4" cy="61.5" r="1.3" fill="#0a48f0"/>
<circle cx="84.0" cy="70.9" r="1.3" fill="#0a48f0"/>
<circle cx="56.2" cy="76.1" r="1.3" fill="#0a48f0"/>
<circle cx="59.3" cy="78.0" r="1.3" fill="#0c18cc"/>
<circle cx="62.3" cy="78.0" r="1.3" fill="#0a48f0"/>
<circle cx="55.7" cy="81.1" r="1.3" fill="#18d0f2"/>
<circle cx="51.7" cy="82.0" r="1.3" fill="#0c18cc"/>
<circle cx="55.0" cy="85.1" r="1.3" fill="#0c18cc"/>
<circle cx="52.9" cy="91.4" r="1.3" fill="#0a48f0"/>
<circle cx="57.6" cy="100.4" r="1.3" fill="#18d0f2"/>
<circle cx="59.3" cy="101.6" r="1.3" fill="#16a0f2"/>
<circle cx="58.1" cy="106.3" r="1.3" fill="#c0f040"/>
<circle cx="53.4" cy="109.8" r="1.3" fill="#18d0f2"/>
<circle cx="61.6" cy="112.2" r="1.3" fill="#c0f040"/>
<circle cx="58.1" cy="112.2" r="1.3" fill="#18d0f2"/>
<circle cx="64.0" cy="105.1" r="1.3" fill="#0a48f0"/>
<circle cx="71.1" cy="111.0" r="1.3" fill="#0c18cc"/>
<circle cx="79.3" cy="109.8" r="1.3" fill="#0c18cc"/>
<circle cx="84.0" cy="111.0" r="1.3" fill="#0c18cc"/>
<circle cx="83.3" cy="114.5" r="1.3" fill="#0c18cc"/>
<circle cx="91.1" cy="109.8" r="1.3" fill="#0c18cc"/>
<circle cx="72.2" cy="115.7" r="1.3" fill="#0c18cc"/>
<circle cx="97.0" cy="98.0" r="1.3" fill="#0c18cc"/>
<circle cx="98.1" cy="105.1" r="1.3" fill="#0c18cc"/>
<circle cx="101.7" cy="32.1" r="1.3" fill="#0a48f0"/>
<circle cx="104.5" cy="53.3" r="1.3" fill="#0c18cc"/>
<circle cx="101.6" cy="32.1" r="1.3" fill="#0a48f0"/>
<circle cx="105.1" cy="34.9" r="1.3" fill="#6cf088"/>
<circle cx="112.9" cy="41.5" r="1.3" fill="#0c18cc"/>
<circle cx="105.1" cy="46.2" r="1.3" fill="#0a48f0"/>
<circle cx="108.6" cy="47.4" r="1.3" fill="#0c18cc"/>
<circle cx="105.1" cy="53.3" r="1.3" fill="#0c18cc"/>
<circle cx="111.0" cy="58.0" r="1.3" fill="#0c18cc"/>
<circle cx="109.8" cy="64.6" r="1.3" fill="#0c18cc"/>
<circle cx="118.1" cy="61.5" r="1.3" fill="#18d0f2"/>
<circle cx="118.1" cy="65.0" r="1.3" fill="#16a0f2"/>
<circle cx="112.2" cy="72.1" r="1.3" fill="#18d0f2"/>
<circle cx="116.9" cy="74.5" r="1.3" fill="#16a0f2"/>
<circle cx="125.1" cy="76.4" r="1.3" fill="#0c18cc"/>
<circle cx="114.5" cy="85.1" r="1.3" fill="#16a0f2"/>
<circle cx="119.9" cy="82.7" r="1.3" fill="#0c18cc"/>
<circle cx="125.1" cy="80.4" r="1.3" fill="#0c18cc"/>
<circle cx="118.1" cy="90.5" r="1.3" fill="#16a0f2"/>
<circle cx="134.6" cy="91.4" r="1.3" fill="#0a48f0"/>
<circle cx="136.9" cy="93.8" r="1.3" fill="#0a48f0"/>
<circle cx="144.7" cy="91.4" r="1.3" fill="#0a48f0"/>
<circle cx="148.2" cy="103.2" r="1.3" fill="#0a0c90"/>
<circle cx="164.0" cy="102.7" r="1.3" fill="#0a0c90"/>
<circle cx="135.7" cy="107.5" r="1.3" fill="#0a48f0"/>
<circle cx="138.1" cy="108.6" r="1.3" fill="#0a48f0"/>
<circle cx="113.4" cy="100.4" r="1.3" fill="#16a0f2"/>
<circle cx="109.8" cy="98.0" r="1.3" fill="#30f0d8"/>
<circle cx="36.5" cy="118.7" r="1.35" fill="#22a2f0"/>
<circle cx="38.0" cy="118.4" r="1.35" fill="#22a2f0"/>
<circle cx="40.4" cy="118.0" r="1.35" fill="#22a2f0"/>
<circle cx="42.8" cy="117.5" r="1.35" fill="#22a2f0"/>
<circle cx="45.1" cy="116.9" r="1.35" fill="#22a2f0"/>
<circle cx="47.5" cy="116.4" r="1.35" fill="#22a2f0"/>
<circle cx="49.8" cy="115.8" r="1.35" fill="#22a2f0"/>
<circle cx="52.2" cy="114.8" r="1.35" fill="#22a2f0"/>
<circle cx="54.5" cy="113.7" r="1.35" fill="#22a2f0"/>
<circle cx="56.1" cy="113.2" r="1.35" fill="#22a2f0"/>
<circle cx="53.0" cy="109.8" r="1.3" fill="#18d0f2"/>
<circle cx="58.5" cy="107.3" r="1.3" fill="#18d0f2"/>
<circle cx="59.7" cy="101.5" r="1.3" fill="#6cf088"/>
<circle cx="58.5" cy="113.2" r="1.3" fill="#18d0f2"/>
<circle cx="60.8" cy="114.0" r="1.3" fill="#6cf088"/>
<circle cx="54.5" cy="91.3" r="1.3" fill="#0a48f0"/>
<circle cx="64.7" cy="108.5" r="1.3" fill="#0a48f0"/>
<circle cx="68.7" cy="110.1" r="1.3" fill="#0a48f0"/>
<circle cx="71.3" cy="115.9" r="1.35" fill="#0c18cc"/>
<circle cx="72.8" cy="116.5" r="1.35" fill="#0c18cc"/>
<circle cx="79.6" cy="114.4" r="1.35" fill="#0c18cc"/>
<circle cx="83.3" cy="114.9" r="1.35" fill="#0c18cc"/>
<circle cx="83.3" cy="111.7" r="1.35" fill="#0c18cc"/>
<circle cx="78.1" cy="110.2" r="1.35" fill="#0c18cc"/>
<circle cx="91.1" cy="110.2" r="1.35" fill="#0c18cc"/>
<circle cx="79.6" cy="126.4" r="1.35" fill="#0c18cc"/>
<circle cx="90.1" cy="127.4" r="1.35" fill="#0a0c90"/>
<circle cx="88.0" cy="128.5" r="1.35" fill="#0c18cc"/>
<circle cx="91.1" cy="129.5" r="1.35" fill="#0c18cc"/>
<circle cx="89.1" cy="132.7" r="1.35" fill="#0c18cc"/>
<circle cx="64.4" cy="108.1" r="1.35" fill="#0a48f0"/>
<circle cx="58.7" cy="107.0" r="1.35" fill="#6cf088"/>
<circle cx="60.8" cy="113.8" r="1.35" fill="#c0f040"/>
<circle cx="59.7" cy="101.3" r="1.35" fill="#30f0d8"/>
<circle cx="88.3" cy="128.0" r="1.35" fill="#0c18cc"/>
<circle cx="89.8" cy="126.5" r="1.35" fill="#0a0c90"/>
<circle cx="89.8" cy="130.4" r="1.35" fill="#0c18cc"/>
<circle cx="91.4" cy="139.0" r="1.35" fill="#0c18cc"/>
<circle cx="92.2" cy="143.7" r="1.35" fill="#0c18cc"/>
<circle cx="79.6" cy="126.5" r="1.35" fill="#0a48f0"/>
<line x1="75.2" y1="51.2" x2="90.6" y2="45.0" stroke="#606060" stroke-width="0.7"/>
<line x1="90.6" y1="45.0" x2="113.7" y2="59.0" stroke="#606060" stroke-width="0.7"/>
<line x1="113.7" y1="59.0" x2="98.5" y2="65.9" stroke="#606060" stroke-width="0.7"/>
<line x1="98.5" y1="65.9" x2="75.2" y2="51.2" stroke="#606060" stroke-width="0.7"/>
<line x1="75.2" y1="110.4" x2="90.6" y2="103.6" stroke="#606060" stroke-width="0.7"/>
<line x1="90.6" y1="103.6" x2="113.7" y2="117.0" stroke="#606060" stroke-width="0.7"/>
<line x1="113.7" y1="117.0" x2="98.5" y2="124.8" stroke="#606060" stroke-width="0.7"/>
<line x1="98.5" y1="124.8" x2="75.2" y2="110.4" stroke="#606060" stroke-width="0.7"/>
<line x1="75.2" y1="51.2" x2="75.2" y2="110.4" stroke="#606060" stroke-width="0.7"/>
<line x1="90.6" y1="45.0" x2="90.6" y2="103.6" stroke="#606060" stroke-width="0.7"/>
<line x1="113.7" y1="59.0" x2="113.7" y2="117.0" stroke="#606060" stroke-width="0.7"/>
<line x1="98.5" y1="65.9" x2="98.5" y2="124.8" stroke="#606060" stroke-width="0.7"/>
<polyline points="21.6,31.0 21.6,123.0 90.6,168.2 167.4,138.9" fill="none" stroke="#626262" stroke-width="0.9"/>
<line x1="21.6" y1="39.4" x2="19.6" y2="40.2" stroke="#626262" stroke-width="0.8"/>
<text x="18.1" y="40.8" text-anchor="end">0.5</text>
<line x1="21.6" y1="55.5" x2="19.6" y2="56.3" stroke="#626262" stroke-width="0.8"/>
<text x="18.1" y="56.9" text-anchor="end">0</text>
<line x1="21.6" y1="71.6" x2="19.6" y2="72.4" stroke="#626262" stroke-width="0.8"/>
<text x="18.1" y="73.0" text-anchor="end">-0.5</text>
<line x1="21.6" y1="87.7" x2="19.6" y2="88.5" stroke="#626262" stroke-width="0.8"/>
<text x="18.1" y="89.1" text-anchor="end">-1</text>
<line x1="21.6" y1="103.8" x2="19.6" y2="104.6" stroke="#626262" stroke-width="0.8"/>
<text x="18.1" y="105.2" text-anchor="end">-1.5</text>
<line x1="21.6" y1="119.9" x2="19.6" y2="120.7" stroke="#626262" stroke-width="0.8"/>
<text x="18.1" y="121.3" text-anchor="end">-2</text>
<line x1="28.2" y1="127.3" x2="26.7" y2="129.1" stroke="#626262" stroke-width="0.8"/>
<text x="21.9" y="136.8" text-anchor="middle">-1</text>
<line x1="51.2" y1="142.4" x2="49.7" y2="144.2" stroke="#626262" stroke-width="0.8"/>
<text x="44.9" y="151.9" text-anchor="middle">-2</text>
<line x1="74.2" y1="157.5" x2="72.7" y2="159.3" stroke="#626262" stroke-width="0.8"/>
<text x="67.9" y="167.0" text-anchor="middle">-3</text>
<line x1="96.4" y1="166.0" x2="97.6" y2="167.8" stroke="#626262" stroke-width="0.8"/>
<text x="101.6" y="175.4" text-anchor="middle">7</text>
<line x1="125.6" y1="154.8" x2="126.8" y2="156.6" stroke="#626262" stroke-width="0.8"/>
<text x="130.8" y="164.2" text-anchor="middle">8</text>
<line x1="154.8" y1="143.7" x2="156.0" y2="145.5" stroke="#626262" stroke-width="0.8"/>
<text x="160.0" y="153.1" text-anchor="middle">9</text>
</g>
<g transform="translate(374.4,110.7)" font-size="6.8" fill="#303030">
<line x1="96.4" y1="166.0" x2="27.4" y2="120.8" stroke="#e9e9e9" stroke-width="0.8"/>
<line x1="27.4" y1="120.8" x2="27.4" y2="32.6" stroke="#e9e9e9" stroke-width="0.8"/>
<line x1="125.6" y1="154.8" x2="56.6" y2="109.6" stroke="#e9e9e9" stroke-width="0.8"/>
<line x1="56.6" y1="109.6" x2="56.6" y2="21.4" stroke="#e9e9e9" stroke-width="0.8"/>
<line x1="154.8" y1="143.7" x2="85.8" y2="98.4" stroke="#e9e9e9" stroke-width="0.8"/>
<line x1="85.8" y1="98.4" x2="85.8" y2="10.3" stroke="#e9e9e9" stroke-width="0.8"/>
<line x1="28.2" y1="127.3" x2="105.0" y2="98.0" stroke="#e9e9e9" stroke-width="0.8"/>
<line x1="105.0" y1="98.0" x2="105.0" y2="9.8" stroke="#e9e9e9" stroke-width="0.8"/>
<line x1="51.2" y1="142.4" x2="128.0" y2="113.0" stroke="#e9e9e9" stroke-width="0.8"/>
<line x1="128.0" y1="113.0" x2="128.0" y2="24.9" stroke="#e9e9e9" stroke-width="0.8"/>
<line x1="74.2" y1="157.5" x2="151.0" y2="128.1" stroke="#e9e9e9" stroke-width="0.8"/>
<line x1="151.0" y1="128.1" x2="151.0" y2="40.0" stroke="#e9e9e9" stroke-width="0.8"/>
<line x1="21.6" y1="39.4" x2="98.4" y2="10.1" stroke="#e9e9e9" stroke-width="0.8"/>
<line x1="98.4" y1="10.1" x2="167.4" y2="55.3" stroke="#e9e9e9" stroke-width="0.8"/>
<line x1="21.6" y1="55.5" x2="98.4" y2="26.2" stroke="#e9e9e9" stroke-width="0.8"/>
<line x1="98.4" y1="26.2" x2="167.4" y2="71.4" stroke="#e9e9e9" stroke-width="0.8"/>
<line x1="21.6" y1="71.6" x2="98.4" y2="42.3" stroke="#e9e9e9" stroke-width="0.8"/>
<line x1="98.4" y1="42.3" x2="167.4" y2="87.5" stroke="#e9e9e9" stroke-width="0.8"/>
<line x1="21.6" y1="87.7" x2="98.4" y2="58.4" stroke="#e9e9e9" stroke-width="0.8"/>
<line x1="98.4" y1="58.4" x2="167.4" y2="103.6" stroke="#e9e9e9" stroke-width="0.8"/>
<line x1="21.6" y1="103.8" x2="98.4" y2="74.5" stroke="#e9e9e9" stroke-width="0.8"/>
<line x1="98.4" y1="74.5" x2="167.4" y2="119.7" stroke="#e9e9e9" stroke-width="0.8"/>
<line x1="21.6" y1="119.9" x2="98.4" y2="90.6" stroke="#e9e9e9" stroke-width="0.8"/>
<line x1="98.4" y1="90.6" x2="167.4" y2="135.8" stroke="#e9e9e9" stroke-width="0.8"/>
<polyline points="25.1,107.8 25.3,108.0 25.6,108.3 26.0,108.6 26.3,109.0 26.7,109.4 27.2,109.8 27.6,110.3 28.1,110.7 28.6,111.2 29.1,111.7 29.6,112.2 30.1,112.7 30.6,113.2 31.1,113.6 31.6,114.1 32.1,114.5 32.5,114.9 33.0,115.3 33.5,115.8 34.1,116.2 34.6,116.7 35.2,117.1 35.7,117.6 36.2,118.0 36.8,118.5 37.3,118.9 37.8,119.2 38.2,119.6 38.6,119.9 39.0,120.2 39.3,120.5 39.6,120.7" fill="none" stroke="#1456e6" stroke-width="3.3" stroke-linecap="round" stroke-linejoin="round"/>
<polyline points="36.4,104.4 36.7,104.6 37.0,104.9 37.4,105.3 37.8,105.7 38.3,106.1 38.8,106.6 39.3,107.1 39.8,107.5 40.4,108.0 40.9,108.5 41.4,109.0 41.9,109.4 42.3,109.8 42.7,110.2 43.3,110.7 43.8,111.3 44.3,111.8 44.8,112.3 45.3,112.7 45.7,113.2 46.0,113.5 46.4,113.8 46.6,114.1" fill="none" stroke="#1a98ee" stroke-width="3.1" stroke-linecap="round" stroke-linejoin="round"/>
<polyline points="46.6,114.1 46.9,114.5 47.4,115.1 48.0,115.7 48.5,116.0 49.1,115.8 49.8,115.3 50.5,114.8 51.1,114.4 51.8,113.9 52.4,113.5 52.8,113.2" fill="none" stroke="#1484ee" stroke-width="2.6" stroke-linecap="round" stroke-linejoin="round"/>
<polyline points="51.4,116.5 51.6,116.8 51.9,117.1 52.2,117.5 52.5,117.9 52.9,118.4 53.3,118.9 53.7,119.4 54.1,120.0 54.6,120.5 55.0,121.1 55.5,121.7 55.9,122.3 56.4,122.9 56.8,123.5 57.1,124.0 57.5,124.4 57.8,124.9 58.2,125.4 58.5,126.0 58.9,126.5 59.3,127.0 59.6,127.6 60.0,128.1 60.4,128.6 60.7,129.2 61.1,129.7 61.4,130.3 61.8,130.8 62.1,131.4 62.5,131.9 62.8,132.5 63.1,133.0 63.4,133.6 63.8,134.2 64.1,134.8 64.4,135.4 64.7,136.1 65.1,136.7 65.4,137.3 65.7,138.0 66.0,138.6 66.3,139.2 66.6,139.8 66.8,140.3 67.1,140.8 67.3,141.3 67.5,141.7 67.6,142.1 67.8,142.4" fill="none" stroke="#1a98ee" stroke-width="3.0" stroke-linecap="round" stroke-linejoin="round"/>
<polyline points="41.9,101.3 42.2,101.5 42.5,101.8 42.8,102.1 43.2,102.5 43.6,102.9 44.1,103.3 44.6,103.7 45.1,104.2 45.6,104.6 46.1,105.1 46.7,105.6 47.2,106.0 47.7,106.5 48.1,107.0 48.6,107.4 49.0,107.8 49.5,108.3 49.9,108.8 50.4,109.3 50.8,109.8 51.3,110.2 51.7,110.7 52.1,111.2 52.5,111.7 52.9,112.2 53.3,112.7 53.7,113.1 54.1,113.6 54.5,114.1 54.9,114.6 55.3,115.1 55.6,115.5 56.0,116.0 56.3,116.5 56.7,116.9 57.0,117.4 57.4,117.9 57.7,118.3 58.1,118.8 58.4,119.3 58.8,119.9 59.2,120.4 59.5,120.8 59.8,121.3 60.2,121.8 60.5,122.2 60.9,122.7 61.2,123.2 61.6,123.7 61.9,124.2 62.3,124.7 62.6,125.2 63.0,125.7 63.3,126.2 63.7,126.7 64.0,127.2 64.4,127.8 64.7,128.3 65.0,128.8 65.3,129.3 65.6,129.8 66.0,130.3 66.3,130.9 66.6,131.4 66.9,132.0 67.3,132.5 67.6,133.1 67.9,133.6 68.2,134.2 68.5,134.7 68.8,135.2 69.1,135.8 69.4,136.3 69.7,136.8 70.0,137.2 70.2,137.7 70.6,138.4 70.9,139.0 71.2,139.7 71.5,140.4 71.8,141.0 72.1,141.6 72.3,142.2 72.6,142.7 72.8,143.2 73.0,143.6 73.2,144.0 73.3,144.3" fill="none" stroke="#1aa0f0" stroke-width="3.1" stroke-linecap="round" stroke-linejoin="round"/>
<polyline points="50.6,98.4 50.9,98.6 51.2,98.9 51.5,99.2 51.9,99.5 52.3,99.9 52.8,100.3 53.3,100.7 53.8,101.1 54.3,101.6 54.8,102.1 55.3,102.5 55.9,103.0 56.4,103.5 56.9,104.0 57.4,104.5 57.9,105.0 58.4,105.5 58.8,105.9 59.2,106.4 59.6,106.8 60.0,107.2 60.4,107.7 60.8,108.2 61.2,108.7 61.6,109.1 62.0,109.6 62.4,110.1 62.9,110.6 63.3,111.1 63.7,111.6 64.1,112.1 64.4,112.6 64.8,113.0 65.2,113.5 65.6,114.0 65.9,114.4 66.3,114.9 66.7,115.4 67.1,116.0 67.5,116.5 67.9,117.0 68.3,117.5 68.7,118.0 69.0,118.5 69.4,119.0 69.8,119.5 70.1,120.0 70.5,120.5 70.8,121.0 71.2,121.5 71.5,122.0 71.8,122.5 72.2,123.0 72.5,123.5" fill="none" stroke="#1cc0f2" stroke-width="3.1" stroke-linecap="round" stroke-linejoin="round"/>
<polyline points="72.2,123.0 72.5,123.5 72.9,124.0 73.3,124.6 73.6,125.1 74.0,125.7 74.4,126.2 74.8,126.7 75.1,127.3 75.5,127.8 75.8,128.3 76.2,128.8 76.5,129.3 76.8,129.9 77.1,130.4 77.3,130.9 77.6,131.4 77.9,132.0 78.1,132.6 78.3,133.2 78.5,133.8 78.7,134.4 78.8,135.0 78.9,135.6 79.1,136.2 79.2,136.8 79.4,137.5 79.6,138.1 79.8,138.8 80.0,139.3 80.2,139.9 80.4,140.5 80.6,141.2 80.9,141.8 81.1,142.5 81.4,143.2 81.6,143.8 81.9,144.5 82.1,145.1 82.3,145.7 82.6,146.2 82.8,146.7 82.9,147.2 83.1,147.6 83.2,147.9" fill="none" stroke="#1aaaf0" stroke-width="3.1" stroke-linecap="round" stroke-linejoin="round"/>
<polyline points="59.2,94.5 59.5,94.7 59.8,95.0 60.2,95.3 60.6,95.6 61.0,95.9 61.5,96.3 62.0,96.7 62.6,97.1 63.1,97.6 63.7,98.0 64.2,98.5 64.8,98.9 65.3,99.4 65.9,99.8 66.4,100.3 66.9,100.7 67.4,101.2 67.8,101.6 68.3,102.1 68.7,102.6 69.2,103.1 69.6,103.6 70.0,104.1 70.4,104.6 70.9,105.1 71.3,105.6 71.6,106.2 72.0,106.7 72.4,107.2 72.8,107.6 73.1,108.1 73.5,108.6 73.8,109.0 74.1,109.4 74.6,110.0 75.0,110.5 75.4,111.0 75.7,111.4 76.1,111.8 76.4,112.3 76.7,112.7 77.1,113.2 77.4,113.7 77.8,114.3 78.1,114.7 78.3,115.1 78.6,115.6 78.8,116.0 79.1,116.4 79.4,116.8 79.6,117.3 79.9,117.8 80.2,118.3 80.5,118.8 80.8,119.4 81.2,120.0 81.5,120.7 81.9,121.5 82.3,122.3 82.5,122.7 82.7,123.1 82.9,123.6 83.2,124.1 83.4,124.6 83.7,125.1 83.9,125.6 84.2,126.1 84.5,126.7 84.7,127.2 85.0,127.8 85.3,128.4 85.6,129.0 85.9,129.6 86.2,130.2 86.4,130.8 86.7,131.4 87.0,132.0 87.3,132.6 87.6,133.2 87.9,133.8 88.1,134.4 88.4,134.9 88.7,135.5 88.9,136.1 89.2,136.6 89.4,137.2 89.7,137.7 89.9,138.2 90.1,138.7 90.3,139.2 90.5,139.7 90.8,140.4 91.1,141.2 91.3,141.9 91.6,142.6 91.8,143.3 92.1,144.0 92.3,144.7 92.5,145.4 92.7,146.1 92.9,146.7 93.0,147.4 93.2,148.0 93.4,148.5 93.5,149.1 93.6,149.6 93.8,150.1 93.9,150.5 94.0,150.9 94.1,151.3 94.2,151.6" fill="none" stroke="#20d2f4" stroke-width="3.1" stroke-linecap="round" stroke-linejoin="round"/>
<polyline points="67.1,90.6 67.4,90.8 67.7,91.1 68.1,91.5 68.5,91.8 69.0,92.3 69.5,92.7 70.0,93.2 70.5,93.6 71.1,94.1 71.6,94.6 72.2,95.1 72.7,95.6 73.2,96.1 73.7,96.6 74.1,97.0 74.5,97.4 75.0,97.9 75.4,98.3 75.7,98.7 76.1,99.1 76.4,99.5 76.7,99.9 77.0,100.3 77.3,100.7 77.6,101.2 78.0,101.8 78.5,102.4 79.0,103.2 79.3,103.6 79.5,104.0 79.8,104.4 80.1,104.8 80.4,105.2 80.7,105.7 81.0,106.1 81.3,106.6 81.6,107.1 81.9,107.6 82.3,108.1 82.6,108.6 82.9,109.1 83.3,109.6 83.6,110.2 84.0,110.7 84.4,111.3 84.7,111.9 85.1,112.5 85.4,113.1 85.8,113.7 86.2,114.3 86.6,114.9 86.9,115.5 87.3,116.2 87.7,116.8 88.0,117.3 88.2,117.7 88.5,118.2 88.8,118.7 89.1,119.2 89.4,119.7 89.7,120.3 90.0,120.8 90.3,121.3 90.6,121.9 90.9,122.5 91.2,123.0 91.5,123.6 91.9,124.2 92.2,124.8 92.5,125.4 92.8,126.0 93.1,126.5 93.5,127.1 93.8,127.7 94.1,128.3 94.4,128.9 94.7,129.4 95.0,130.0 95.3,130.6 95.6,131.1 95.9,131.7 96.2,132.2 96.5,132.8 96.8,133.3 97.0,133.8 97.3,134.3 97.6,134.7 97.8,135.2 98.0,135.7 98.3,136.1 98.5,136.5 98.7,136.9 99.1,137.7 99.6,138.5 100.0,139.3 100.3,140.0 100.7,140.7 101.0,141.3 101.3,141.9 101.6,142.5 101.8,143.0 102.1,143.5 102.3,144.0 102.5,144.4 102.7,144.8 102.8,145.2 103.0,145.5 103.2,145.8 103.3,146.1" fill="none" stroke="#20d2f4" stroke-width="3.1" stroke-linecap="round" stroke-linejoin="round"/>
<polyline points="75.8,88.0 76.0,88.3 76.2,88.6 76.4,88.9 76.6,89.2 76.9,89.6 77.2,89.9 77.5,90.3 77.8,90.8 78.1,91.2 78.4,91.7 78.7,92.1 79.1,92.6 79.4,93.1 79.8,93.6 80.2,94.2 80.6,94.7 80.9,95.2 81.3,95.8 81.7,96.4 82.1,96.9 82.5,97.5 82.9,98.1 83.4,98.7 83.8,99.2 84.2,99.8 84.6,100.4 85.0,101.0 85.4,101.6 85.8,102.1 86.2,102.7 86.6,103.3 87.0,103.8 87.3,104.4 87.7,104.9 88.0,105.4 88.4,105.9 88.7,106.4 89.0,106.9 89.4,107.4 89.7,107.9 90.1,108.4 90.4,108.9 90.8,109.4 91.1,110.0 91.5,110.5 91.8,111.0 92.2,111.6 92.5,112.1 92.9,112.7 93.3,113.2 93.6,113.7 94.0,114.3 94.3,114.8 94.7,115.3 95.0,115.9 95.4,116.4" fill="none" stroke="#20d2f4" stroke-width="3.0" stroke-linecap="round" stroke-linejoin="round"/>
<polyline points="95.0,115.9 95.4,116.4 95.7,116.9 96.1,117.5 96.4,118.0 96.8,118.5 97.1,119.0 97.5,119.5 97.8,120.0 98.1,120.5 98.4,121.0 98.8,121.5 99.1,121.9 99.4,122.4 99.7,122.8 100.0,123.3 100.3,123.7 100.6,124.1 101.1,124.7 101.5,125.4" fill="none" stroke="#16a0f2" stroke-width="3.0" stroke-linecap="round" stroke-linejoin="round"/>
<polyline points="101.1,124.7 101.5,125.4 102.0,126.0 102.4,126.5 102.8,127.1 103.2,127.7 103.7,128.2 104.1,128.7 104.5,129.3 104.9,129.8 105.3,130.2 105.7,130.7 106.0,131.2 106.4,131.7 106.8,132.1 107.1,132.6 107.5,133.0 107.8,133.4 108.2,133.9 108.5,134.3 108.8,134.7 109.1,135.2 109.4,135.6 109.7,136.0 110.1,136.7 110.6,137.4 111.0,138.0 111.4,138.7 111.7,139.3 112.1,140.0 112.4,140.6 112.7,141.2 113.0,141.8 113.3,142.3 113.5,142.8 113.7,143.2 114.0,143.6 114.1,144.0 114.3,144.3" fill="none" stroke="#1278f0" stroke-width="3.0" stroke-linecap="round" stroke-linejoin="round"/>
<polyline points="81.2,86.6 81.5,86.8 82.0,87.1 82.5,87.4 83.1,87.7 83.8,88.1 84.5,88.4 85.2,88.8 85.9,89.2 86.5,89.6 87.2,89.9 87.7,90.2 88.2,90.5 88.5,90.7" fill="none" stroke="#1226d0" stroke-width="3.0" stroke-linecap="round" stroke-linejoin="round" stroke-dasharray="0.01 1.4"/>
<polyline points="97.7,99.7 97.9,100.0 98.3,100.3 98.7,100.7 99.1,101.2 99.6,101.7 100.2,102.2 100.7,102.7 101.2,103.3 101.8,103.8 102.3,104.3 102.7,104.8 103.2,105.2 103.7,105.7 104.2,106.3 104.7,106.8 105.2,107.3 105.7,107.7 106.1,108.2 106.5,108.5 106.8,108.9 107.1,109.1" fill="none" stroke="#1226d0" stroke-width="3.0" stroke-linecap="round" stroke-linejoin="round" stroke-dasharray="0.01 1.4"/>
<polyline points="106.3,116.5 106.6,116.2 107.1,115.7 107.7,115.2 108.3,114.6 108.9,114.2 109.4,114.0 110.1,114.0 110.8,114.3 111.5,114.8 112.2,115.2 112.6,115.4" fill="none" stroke="#1226d0" stroke-width="2.8" stroke-linecap="round" stroke-linejoin="round" stroke-dasharray="0.01 1.4"/>
<polyline points="114.1,119.3 114.4,119.6 114.7,119.9 115.1,120.2 115.5,120.6 115.9,121.0 116.4,121.5 116.9,122.0 117.4,122.5 117.9,123.0 118.4,123.5 118.9,124.0 119.2,124.5 119.6,124.9 120.0,125.4 120.4,125.9 120.8,126.3 121.2,126.8 121.6,127.4 122.0,127.9 122.4,128.4 122.8,128.9 123.2,129.5 123.6,130.0 124.0,130.6 124.4,131.1 124.7,131.6 125.1,132.2 125.4,132.8 125.8,133.4 126.2,134.0 126.5,134.7 126.9,135.3 127.2,135.9 127.6,136.5 127.9,137.1 128.2,137.6 128.4,138.1 128.7,138.6 128.9,139.0 129.1,139.3" fill="none" stroke="#1226d0" stroke-width="3.1" stroke-linecap="round" stroke-linejoin="round" stroke-dasharray="0.01 1.4"/>
<polyline points="101.6,87.1 101.8,87.4 102.2,87.6 102.5,87.9 102.9,88.2 103.3,88.5 103.7,88.9 104.2,89.3 104.7,89.7 105.2,90.1 105.8,90.5 106.3,91.0 106.8,91.4 107.4,91.9 107.9,92.3 108.5,92.8 109.0,93.3 109.5,93.7 110.1,94.1 110.5,94.6 111.0,95.0 111.5,95.4 111.9,95.9 112.4,96.3 112.9,96.8 113.4,97.3 113.9,97.8 114.4,98.3 114.9,98.8 115.4,99.3 115.9,99.8 116.4,100.3 116.8,100.8 117.3,101.2 117.7,101.7 118.1,102.1 118.5,102.4 118.8,102.8 119.1,103.1 119.4,103.4 119.6,103.6" fill="none" stroke="#1430d6" stroke-width="3.0" stroke-linecap="round" stroke-linejoin="round" stroke-dasharray="0.01 1.4"/>
<polyline points="122.0,107.6 122.3,107.8 122.6,108.2 123.1,108.6 123.6,109.1 124.1,109.6 124.6,110.2 125.1,110.7 125.6,111.2 126.1,111.6 126.4,112.0 126.7,112.3" fill="none" stroke="#1430d6" stroke-width="3.0" stroke-linecap="round" stroke-linejoin="round" stroke-dasharray="0.01 1.4"/>
<polyline points="129.1,116.2 129.3,116.4 129.6,116.8 129.9,117.1 130.2,117.5 130.6,117.9 131.0,118.4 131.5,118.9 131.9,119.4 132.4,119.9 132.9,120.4 133.3,121.0 133.8,121.5 134.3,122.0 134.8,122.6 135.3,123.1 135.7,123.6 136.1,124.0 136.6,124.5 137.0,125.0 137.5,125.5 137.9,126.1 138.4,126.6 138.9,127.1 139.4,127.7 139.9,128.2 140.3,128.7 140.8,129.2 141.2,129.7 141.6,130.2 142.0,130.6 142.4,131.0 142.7,131.3 143.0,131.6 143.2,131.9" fill="none" stroke="#1430d6" stroke-width="3.0" stroke-linecap="round" stroke-linejoin="round" stroke-dasharray="0.01 1.4"/>
<polyline points="101.3,87.5 101.6,87.8 102.1,88.2 102.6,88.6 103.1,89.1 103.7,89.6 104.2,90.0 104.7,90.4 105.0,90.7" fill="none" stroke="#1430d6" stroke-width="3.0" stroke-linecap="round" stroke-linejoin="round" stroke-dasharray="0.01 1.4"/>
<circle cx="82.3" cy="132.7" r="1.0" fill="#f0ee18"/>
<circle cx="94.2" cy="132.7" r="1.0" fill="#f0ee18"/>
<circle cx="109.7" cy="136.0" r="1.0" fill="#f0ee18"/>
<circle cx="66.3" cy="101.2" r="1.0" fill="#f0ee18"/>
<circle cx="67.5" cy="101.4" r="1.0" fill="#c0f040"/>
<circle cx="88.4" cy="83.6" r="1.3" fill="#1ab0f2"/>
<circle cx="93.4" cy="86.4" r="1.3" fill="#1ab0f2"/>
<circle cx="90.7" cy="70.2" r="1.3" fill="#30f0d8"/>
<circle cx="95.8" cy="65.7" r="1.3" fill="#18d0f2"/>
<circle cx="97.2" cy="65.5" r="1.3" fill="#18d0f2"/>
<circle cx="92.8" cy="110.1" r="1.3" fill="#0a48f0"/>
<circle cx="95.2" cy="93.7" r="1.3" fill="#18d0f2"/>
<circle cx="95.2" cy="87.4" r="1.3" fill="#18d0f2"/>
<circle cx="96.2" cy="70.5" r="1.3" fill="#1ab0f2"/>
<circle cx="97.5" cy="83.0" r="1.3" fill="#c0f040"/>
<circle cx="93.8" cy="87.0" r="1.3" fill="#16a0f2"/>
<circle cx="93.1" cy="83.9" r="1.3" fill="#18d0f2"/>
<circle cx="103.5" cy="110.9" r="1.3" fill="#16a0f2"/>
<circle cx="96.2" cy="76.8" r="1.3" fill="#18d0f2"/>
<circle cx="102.3" cy="75.5" r="1.3" fill="#18d0f2"/>
<circle cx="99.5" cy="103.3" r="1.3" fill="#18d0f2"/>
<circle cx="97.4" cy="108.9" r="1.3" fill="#18d0f2"/>
<circle cx="97.2" cy="106.5" r="1.3" fill="#1ab0f2"/>
<circle cx="96.4" cy="110.0" r="1.3" fill="#1ab0f2"/>
<circle cx="97.8" cy="99.9" r="1.3" fill="#18d0f2"/>
<circle cx="93.4" cy="65.4" r="1.3" fill="#16a0f2"/>
<circle cx="100.6" cy="66.9" r="1.3" fill="#18d0f2"/>
<circle cx="99.4" cy="66.1" r="1.3" fill="#18d0f2"/>
<circle cx="99.3" cy="89.0" r="1.3" fill="#1ab0f2"/>
<circle cx="95.9" cy="70.5" r="1.3" fill="#16a0f2"/>
<circle cx="95.0" cy="66.8" r="1.3" fill="#1ab0f2"/>
<circle cx="94.9" cy="71.6" r="1.3" fill="#30f0d8"/>
<circle cx="106.5" cy="76.2" r="1.3" fill="#f0ee18"/>
<circle cx="90.2" cy="71.5" r="1.3" fill="#16a0f2"/>
<circle cx="98.5" cy="66.0" r="1.3" fill="#0a48f0"/>
<circle cx="95.9" cy="71.7" r="1.3" fill="#18d0f2"/>
<circle cx="103.0" cy="75.8" r="1.3" fill="#18d0f2"/>
<circle cx="94.7" cy="65.5" r="1.3" fill="#1ab0f2"/>
<circle cx="95.0" cy="79.6" r="1.3" fill="#1ab0f2"/>
<circle cx="93.2" cy="109.0" r="1.3" fill="#c0f040"/>
<circle cx="96.7" cy="70.1" r="1.3" fill="#18d0f2"/>
<circle cx="98.2" cy="106.4" r="1.3" fill="#18d0f2"/>
<circle cx="94.3" cy="98.0" r="1.3" fill="#1274f0"/>
<circle cx="103.8" cy="70.8" r="1.3" fill="#1ab0f2"/>
<circle cx="94.0" cy="82.1" r="1.3" fill="#18d0f2"/>
<circle cx="97.4" cy="62.9" r="1.3" fill="#16a0f2"/>
<circle cx="95.6" cy="73.8" r="1.3" fill="#30f0d8"/>
<circle cx="96.1" cy="90.8" r="1.3" fill="#16a0f2"/>
<circle cx="97.2" cy="64.4" r="1.3" fill="#18d0f2"/>
<circle cx="99.9" cy="89.0" r="1.3" fill="#18d0f2"/>
<circle cx="93.7" cy="106.9" r="1.3" fill="#18d0f2"/>
<circle cx="95.6" cy="61.8" r="1.3" fill="#18d0f2"/>
<circle cx="100.3" cy="69.8" r="1.3" fill="#18d0f2"/>
<circle cx="99.2" cy="89.6" r="1.3" fill="#f0ee18"/>
<circle cx="99.6" cy="110.0" r="1.3" fill="#16a0f2"/>
<circle cx="95.1" cy="95.6" r="1.3" fill="#18d0f2"/>
<circle cx="95.3" cy="61.9" r="1.3" fill="#1274f0"/>
<circle cx="97.7" cy="96.0" r="1.3" fill="#1ab0f2"/>
<circle cx="96.4" cy="85.1" r="1.3" fill="#16a0f2"/>
<circle cx="97.9" cy="76.9" r="1.3" fill="#1ab0f2"/>
<circle cx="97.0" cy="97.9" r="1.3" fill="#1274f0"/>
<circle cx="95.0" cy="97.9" r="1.3" fill="#1274f0"/>
<circle cx="89.8" cy="78.6" r="1.3" fill="#16a0f2"/>
<circle cx="99.5" cy="106.0" r="1.3" fill="#30f0d8"/>
<circle cx="94.8" cy="104.2" r="1.3" fill="#1ab0f2"/>
<circle cx="93.0" cy="92.2" r="1.3" fill="#1ab0f2"/>
<circle cx="97.8" cy="65.0" r="1.3" fill="#1ab0f2"/>
<circle cx="101.1" cy="110.7" r="1.3" fill="#18d0f2"/>
<circle cx="92.7" cy="97.8" r="1.3" fill="#1ab0f2"/>
<circle cx="97.4" cy="83.0" r="1.3" fill="#16a0f2"/>
<circle cx="95.2" cy="62.5" r="1.3" fill="#1ab0f2"/>
<circle cx="97.3" cy="85.0" r="1.3" fill="#1ab0f2"/>
<circle cx="102.7" cy="91.7" r="1.3" fill="#1274f0"/>
<circle cx="99.5" cy="73.8" r="1.3" fill="#16a0f2"/>
<circle cx="96.4" cy="71.1" r="1.3" fill="#18d0f2"/>
<circle cx="95.4" cy="106.3" r="1.3" fill="#f0ee18"/>
<circle cx="92.8" cy="77.3" r="1.3" fill="#16a0f2"/>
<circle cx="89.8" cy="70.9" r="1.3" fill="#1274f0"/>
<circle cx="99.6" cy="105.0" r="1.3" fill="#18d0f2"/>
<circle cx="95.9" cy="90.2" r="1.3" fill="#1ab0f2"/>
<circle cx="98.7" cy="102.9" r="1.3" fill="#c0f040"/>
<circle cx="99.9" cy="96.6" r="1.3" fill="#18d0f2"/>
<circle cx="95.6" cy="83.5" r="1.3" fill="#18d0f2"/>
<circle cx="91.6" cy="71.7" r="1.3" fill="#1ab0f2"/>
<circle cx="99.1" cy="76.8" r="1.3" fill="#30f0d8"/>
<circle cx="96.2" cy="110.1" r="1.3" fill="#18d0f2"/>
<circle cx="97.6" cy="104.6" r="1.3" fill="#18d0f2"/>
<circle cx="93.9" cy="96.4" r="1.3" fill="#30f0d8"/>
<circle cx="95.2" cy="62.0" r="1.3" fill="#18d0f2"/>
<circle cx="103.7" cy="83.7" r="1.3" fill="#18d0f2"/>
<circle cx="97.2" cy="68.0" r="1.3" fill="#18d0f2"/>
<circle cx="91.7" cy="92.5" r="1.3" fill="#16a0f2"/>
<circle cx="98.6" cy="101.4" r="1.3" fill="#1274f0"/>
<circle cx="98.3" cy="95.2" r="1.3" fill="#18d0f2"/>
<circle cx="98.1" cy="61.5" r="1.3" fill="#1ab0f2"/>
<circle cx="98.3" cy="96.7" r="1.3" fill="#18d0f2"/>
<circle cx="99.7" cy="95.9" r="1.3" fill="#1ab0f2"/>
<circle cx="97.0" cy="91.7" r="1.3" fill="#30f0d8"/>
<circle cx="94.1" cy="106.3" r="1.3" fill="#18d0f2"/>
<circle cx="97.0" cy="107.6" r="1.3" fill="#1ab0f2"/>
<circle cx="94.8" cy="92.3" r="1.3" fill="#1274f0"/>
<circle cx="89.2" cy="79.8" r="1.3" fill="#30f0d8"/>
<circle cx="94.6" cy="108.2" r="1.3" fill="#1ab0f2"/>
<circle cx="98.6" cy="93.6" r="1.3" fill="#30f0d8"/>
<circle cx="102.8" cy="93.1" r="1.3" fill="#16a0f2"/>
<circle cx="105.0" cy="71.7" r="1.3" fill="#0a48f0"/>
<circle cx="90.3" cy="87.8" r="1.3" fill="#30f0d8"/>
<circle cx="102.8" cy="77.0" r="1.3" fill="#18d0f2"/>
<circle cx="93.8" cy="65.1" r="1.3" fill="#1ab0f2"/>
<circle cx="97.2" cy="88.5" r="1.3" fill="#18d0f2"/>
<circle cx="93.4" cy="101.5" r="1.3" fill="#18d0f2"/>
<circle cx="98.4" cy="101.0" r="1.3" fill="#30f0d8"/>
<circle cx="99.2" cy="68.0" r="1.3" fill="#18d0f2"/>
<circle cx="95.4" cy="86.8" r="1.3" fill="#16a0f2"/>
<circle cx="91.3" cy="108.3" r="1.3" fill="#1ab0f2"/>
<circle cx="99.2" cy="108.5" r="1.3" fill="#1ab0f2"/>
<circle cx="97.7" cy="75.5" r="1.3" fill="#16a0f2"/>
<circle cx="89.5" cy="92.9" r="1.3" fill="#1ab0f2"/>
<circle cx="95.3" cy="76.6" r="1.3" fill="#18d0f2"/>
<circle cx="98.9" cy="103.3" r="1.3" fill="#c0f040"/>
<circle cx="96.1" cy="109.4" r="1.3" fill="#1ab0f2"/>
<circle cx="98.2" cy="89.6" r="1.3" fill="#1ab0f2"/>
<circle cx="101.3" cy="91.3" r="1.3" fill="#18d0f2"/>
<circle cx="94.1" cy="109.5" r="1.3" fill="#30f0d8"/>
<circle cx="96.3" cy="89.1" r="1.3" fill="#1ab0f2"/>
<circle cx="101.3" cy="95.5" r="1.3" fill="#18d0f2"/>
<circle cx="98.9" cy="108.8" r="1.3" fill="#1274f0"/>
<circle cx="94.3" cy="74.5" r="1.3" fill="#1ab0f2"/>
<circle cx="97.4" cy="101.8" r="1.3" fill="#1274f0"/>
<circle cx="95.6" cy="84.8" r="1.3" fill="#1ab0f2"/>
<circle cx="99.2" cy="107.3" r="1.3" fill="#18d0f2"/>
<circle cx="99.1" cy="100.0" r="1.3" fill="#18d0f2"/>
<circle cx="97.3" cy="95.4" r="1.3" fill="#18d0f2"/>
<circle cx="95.1" cy="78.8" r="1.3" fill="#16a0f2"/>
<circle cx="94.8" cy="67.1" r="1.3" fill="#1ab0f2"/>
<circle cx="97.8" cy="73.5" r="1.3" fill="#1ab0f2"/>
<circle cx="100.9" cy="79.8" r="1.3" fill="#18d0f2"/>
<circle cx="98.1" cy="87.5" r="1.3" fill="#1ab0f2"/>
<circle cx="99.0" cy="92.9" r="1.3" fill="#1ab0f2"/>
<circle cx="92.4" cy="103.6" r="1.3" fill="#18d0f2"/>
<circle cx="92.1" cy="98.0" r="1.3" fill="#30f0d8"/>
<circle cx="96.1" cy="106.1" r="1.3" fill="#1274f0"/>
<circle cx="99.3" cy="71.9" r="1.3" fill="#0a48f0"/>
<circle cx="98.8" cy="105.4" r="1.3" fill="#16a0f2"/>
<circle cx="98.4" cy="74.0" r="1.3" fill="#18d0f2"/>
<circle cx="92.2" cy="102.6" r="1.3" fill="#18d0f2"/>
<circle cx="99.7" cy="81.1" r="1.3" fill="#16a0f2"/>
<circle cx="96.8" cy="61.9" r="1.3" fill="#1274f0"/>
<circle cx="101.9" cy="109.4" r="1.3" fill="#18d0f2"/>
<circle cx="96.9" cy="86.3" r="1.3" fill="#16a0f2"/>
<circle cx="91.6" cy="70.5" r="1.3" fill="#18d0f2"/>
<circle cx="98.6" cy="66.3" r="1.3" fill="#1ab0f2"/>
<circle cx="97.9" cy="89.4" r="1.3" fill="#18d0f2"/>
<circle cx="98.3" cy="70.2" r="1.3" fill="#0a48f0"/>
<circle cx="103.1" cy="107.3" r="1.3" fill="#18d0f2"/>
<circle cx="98.1" cy="64.1" r="1.3" fill="#16a0f2"/>
<circle cx="95.1" cy="77.3" r="1.3" fill="#1ab0f2"/>
<circle cx="91.9" cy="86.8" r="1.3" fill="#18d0f2"/>
<circle cx="99.2" cy="96.1" r="1.3" fill="#c0f040"/>
<circle cx="90.1" cy="70.1" r="1.3" fill="#18d0f2"/>
<circle cx="98.0" cy="70.8" r="1.3" fill="#18d0f2"/>
<circle cx="104.8" cy="86.6" r="1.3" fill="#30f0d8"/>
<circle cx="97.7" cy="96.2" r="1.3" fill="#c0f040"/>
<circle cx="92.5" cy="92.5" r="1.3" fill="#1ab0f2"/>
<circle cx="99.8" cy="110.1" r="1.3" fill="#30f0d8"/>
<circle cx="101.7" cy="73.9" r="1.3" fill="#16a0f2"/>
<circle cx="94.3" cy="101.7" r="1.3" fill="#18d0f2"/>
<circle cx="100.8" cy="105.8" r="1.3" fill="#16a0f2"/>
<circle cx="93.7" cy="99.3" r="1.3" fill="#18d0f2"/>
<circle cx="100.2" cy="97.1" r="1.3" fill="#1ab0f2"/>
<circle cx="96.7" cy="61.5" r="1.3" fill="#18d0f2"/>
<circle cx="94.8" cy="92.9" r="1.3" fill="#1274f0"/>
<circle cx="94.9" cy="94.3" r="1.3" fill="#18d0f2"/>
<circle cx="92.5" cy="94.0" r="1.3" fill="#18d0f2"/>
<circle cx="95.7" cy="111.0" r="1.3" fill="#16a0f2"/>
<circle cx="97.7" cy="96.1" r="1.3" fill="#18d0f2"/>
<circle cx="86.0" cy="91.8" r="1.3" fill="#16a0f2"/>
<circle cx="95.3" cy="73.8" r="1.3" fill="#18d0f2"/>
<circle cx="97.2" cy="79.8" r="1.3" fill="#18d0f2"/>
<circle cx="100.3" cy="73.5" r="1.3" fill="#1ab0f2"/>
<circle cx="95.1" cy="109.4" r="1.3" fill="#1ab0f2"/>
<circle cx="93.6" cy="110.8" r="1.3" fill="#18d0f2"/>
<circle cx="91.4" cy="90.9" r="1.3" fill="#16a0f2"/>
<circle cx="97.0" cy="63.3" r="1.3" fill="#1ab0f2"/>
<circle cx="95.2" cy="69.5" r="1.3" fill="#1ab0f2"/>
<circle cx="105.5" cy="91.6" r="1.3" fill="#1ab0f2"/>
<circle cx="100.0" cy="87.3" r="1.3" fill="#1ab0f2"/>
<circle cx="95.2" cy="79.3" r="1.3" fill="#1ab0f2"/>
<circle cx="101.8" cy="75.2" r="1.3" fill="#16a0f2"/>
<circle cx="99.2" cy="75.8" r="1.3" fill="#18d0f2"/>
<circle cx="96.4" cy="68.8" r="1.3" fill="#16a0f2"/>
<circle cx="101.6" cy="80.5" r="1.3" fill="#18d0f2"/>
<circle cx="94.2" cy="110.4" r="1.3" fill="#1274f0"/>
<circle cx="97.8" cy="64.7" r="1.3" fill="#1ab0f2"/>
<circle cx="95.5" cy="109.7" r="1.3" fill="#18d0f2"/>
<circle cx="102.4" cy="87.2" r="1.3" fill="#1ab0f2"/>
<circle cx="95.4" cy="109.9" r="1.3" fill="#30f0d8"/>
<circle cx="100.8" cy="91.2" r="1.3" fill="#1ab0f2"/>
<circle cx="99.8" cy="71.2" r="1.3" fill="#18d0f2"/>
<circle cx="99.6" cy="87.4" r="1.3" fill="#16a0f2"/>
<circle cx="99.5" cy="83.8" r="1.3" fill="#18d0f2"/>
<circle cx="90.9" cy="90.1" r="1.3" fill="#1ab0f2"/>
<circle cx="100.1" cy="110.9" r="1.3" fill="#1274f0"/>
<circle cx="97.1" cy="97.7" r="1.3" fill="#f0ee18"/>
<circle cx="98.6" cy="100.2" r="1.3" fill="#1ab0f2"/>
<circle cx="95.6" cy="79.0" r="1.3" fill="#1ab0f2"/>
<circle cx="102.6" cy="90.6" r="1.3" fill="#1ab0f2"/>
<circle cx="97.9" cy="98.7" r="1.3" fill="#0a48f0"/>
<circle cx="99.5" cy="106.8" r="1.3" fill="#c0f040"/>
<circle cx="97.4" cy="63.0" r="1.3" fill="#1ab0f2"/>
<circle cx="98.0" cy="92.2" r="1.3" fill="#18d0f2"/>
<circle cx="98.2" cy="88.1" r="1.3" fill="#16a0f2"/>
<circle cx="97.4" cy="88.5" r="1.3" fill="#1ab0f2"/>
<circle cx="93.8" cy="79.7" r="1.3" fill="#18d0f2"/>
<circle cx="97.4" cy="98.2" r="1.3" fill="#30f0d8"/>
<circle cx="98.7" cy="64.7" r="1.3" fill="#1ab0f2"/>
<circle cx="101.0" cy="99.4" r="1.3" fill="#18d0f2"/>
<circle cx="96.2" cy="82.2" r="1.3" fill="#18d0f2"/>
<circle cx="103.9" cy="93.7" r="1.3" fill="#0a48f0"/>
<circle cx="90.3" cy="77.3" r="1.3" fill="#1274f0"/>
<circle cx="94.6" cy="82.4" r="1.3" fill="#18d0f2"/>
<circle cx="96.6" cy="65.9" r="1.3" fill="#18d0f2"/>
<circle cx="95.6" cy="89.2" r="1.3" fill="#1ab0f2"/>
<circle cx="94.9" cy="95.3" r="1.3" fill="#18d0f2"/>
<circle cx="102.6" cy="71.7" r="1.3" fill="#16a0f2"/>
<circle cx="94.9" cy="65.1" r="1.3" fill="#16a0f2"/>
<circle cx="102.2" cy="75.1" r="1.3" fill="#18d0f2"/>
<circle cx="95.9" cy="78.9" r="1.3" fill="#18d0f2"/>
<circle cx="93.3" cy="96.5" r="1.3" fill="#1ab0f2"/>
<circle cx="103.8" cy="106.9" r="1.3" fill="#1ab0f2"/>
<circle cx="94.5" cy="101.2" r="1.3" fill="#18d0f2"/>
<circle cx="89.1" cy="76.9" r="1.3" fill="#f0ee18"/>
<circle cx="101.6" cy="73.4" r="1.3" fill="#18d0f2"/>
<circle cx="93.9" cy="79.3" r="1.3" fill="#18d0f2"/>
<circle cx="99.1" cy="70.7" r="1.3" fill="#1ab0f2"/>
<circle cx="93.9" cy="58.1" r="1.35" fill="#0c18cc"/>
<circle cx="96.8" cy="59.9" r="1.35" fill="#0c18cc"/>
<circle cx="98.4" cy="59.4" r="1.35" fill="#0c18cc"/>
<circle cx="88.4" cy="61.0" r="1.35" fill="#0c18cc"/>
<circle cx="99.0" cy="65.4" r="1.35" fill="#0c18cc"/>
<circle cx="100.6" cy="71.0" r="1.35" fill="#0c18cc"/>
<circle cx="99.9" cy="77.6" r="1.35" fill="#0c18cc"/>
<circle cx="101.7" cy="83.2" r="1.35" fill="#0c18cc"/>
<circle cx="87.3" cy="86.5" r="1.35" fill="#0c18cc"/>
<circle cx="89.5" cy="85.4" r="1.35" fill="#0c18cc"/>
<circle cx="91.7" cy="83.9" r="1.35" fill="#0c18cc"/>
<circle cx="83.9" cy="87.6" r="1.35" fill="#0c18cc"/>
<circle cx="101.3" cy="92.1" r="1.35" fill="#0c18cc"/>
<circle cx="102.2" cy="97.6" r="1.35" fill="#0c18cc"/>
<circle cx="103.9" cy="103.9" r="1.35" fill="#0c18cc"/>
<circle cx="106.2" cy="107.6" r="1.35" fill="#0c18cc"/>
<circle cx="108.4" cy="115.4" r="1.35" fill="#0c18cc"/>
<circle cx="110.2" cy="115.0" r="1.35" fill="#0c18cc"/>
<circle cx="103.9" cy="111.0" r="1.35" fill="#0c18cc"/>
<circle cx="98.4" cy="71.0" r="1.35" fill="#0c18cc"/>
<circle cx="97.3" cy="66.5" r="1.35" fill="#0c18cc"/>
<circle cx="95.5" cy="62.1" r="1.35" fill="#0c18cc"/>
<circle cx="99.5" cy="74.3" r="1.35" fill="#0c18cc"/>
<circle cx="92.8" cy="88.7" r="1.1" fill="#c0f040"/>
<circle cx="95.0" cy="92.1" r="1.1" fill="#6cf088"/>
<circle cx="93.9" cy="96.5" r="1.1" fill="#f0ee18"/>
<circle cx="95.5" cy="101.0" r="1.1" fill="#6cf088"/>
<circle cx="92.8" cy="104.3" r="1.1" fill="#6cf088"/>
<circle cx="96.8" cy="108.7" r="1.1" fill="#f0ee18"/>
<circle cx="94.6" cy="86.5" r="1.1" fill="#f0ee18"/>
<line x1="75.2" y1="51.2" x2="90.6" y2="45.0" stroke="#606060" stroke-width="0.7"/>
<line x1="90.6" y1="45.0" x2="113.7" y2="59.0" stroke="#606060" stroke-width="0.7"/>
<line x1="113.7" y1="59.0" x2="98.5" y2="65.9" stroke="#606060" stroke-width="0.7"/>
<line x1="98.5" y1="65.9" x2="75.2" y2="51.2" stroke="#606060" stroke-width="0.7"/>
<line x1="75.2" y1="110.4" x2="90.6" y2="103.6" stroke="#606060" stroke-width="0.7"/>
<line x1="90.6" y1="103.6" x2="113.7" y2="117.0" stroke="#606060" stroke-width="0.7"/>
<line x1="113.7" y1="117.0" x2="98.5" y2="124.8" stroke="#606060" stroke-width="0.7"/>
<line x1="98.5" y1="124.8" x2="75.2" y2="110.4" stroke="#606060" stroke-width="0.7"/>
<line x1="75.2" y1="51.2" x2="75.2" y2="110.4" stroke="#606060" stroke-width="0.7"/>
<line x1="90.6" y1="45.0" x2="90.6" y2="103.6" stroke="#606060" stroke-width="0.7"/>
<line x1="113.7" y1="59.0" x2="113.7" y2="117.0" stroke="#606060" stroke-width="0.7"/>
<line x1="98.5" y1="65.9" x2="98.5" y2="124.8" stroke="#606060" stroke-width="0.7"/>
<polyline points="21.6,31.0 21.6,123.0 90.6,168.2 167.4,138.9" fill="none" stroke="#626262" stroke-width="0.9"/>
<line x1="21.6" y1="39.4" x2="19.6" y2="40.2" stroke="#626262" stroke-width="0.8"/>
<text x="18.1" y="40.8" text-anchor="end">0.5</text>
<line x1="21.6" y1="55.5" x2="19.6" y2="56.3" stroke="#626262" stroke-width="0.8"/>
<text x="18.1" y="56.9" text-anchor="end">0</text>
<line x1="21.6" y1="71.6" x2="19.6" y2="72.4" stroke="#626262" stroke-width="0.8"/>
<text x="18.1" y="73.0" text-anchor="end">-0.5</text>
<line x1="21.6" y1="87.7" x2="19.6" y2="88.5" stroke="#626262" stroke-width="0.8"/>
<text x="18.1" y="89.1" text-anchor="end">-1</text>
<line x1="21.6" y1="103.8" x2="19.6" y2="104.6" stroke="#626262" stroke-width="0.8"/>
<text x="18.1" y="105.2" text-anchor="end">-1.5</text>
<line x1="21.6" y1="119.9" x2="19.6" y2="120.7" stroke="#626262" stroke-width="0.8"/>
<text x="18.1" y="121.3" text-anchor="end">-2</text>
<line x1="28.2" y1="127.3" x2="26.7" y2="129.1" stroke="#626262" stroke-width="0.8"/>
<text x="21.9" y="136.8" text-anchor="middle">-1</text>
<line x1="51.2" y1="142.4" x2="49.7" y2="144.2" stroke="#626262" stroke-width="0.8"/>
<text x="44.9" y="151.9" text-anchor="middle">-2</text>
<line x1="74.2" y1="157.5" x2="72.7" y2="159.3" stroke="#626262" stroke-width="0.8"/>
<text x="67.9" y="167.0" text-anchor="middle">-3</text>
<line x1="96.4" y1="166.0" x2="97.6" y2="167.8" stroke="#626262" stroke-width="0.8"/>
<text x="101.6" y="175.4" text-anchor="middle">7</text>
<line x1="125.6" y1="154.8" x2="126.8" y2="156.6" stroke="#626262" stroke-width="0.8"/>
<text x="130.8" y="164.2" text-anchor="middle">8</text>
<line x1="154.8" y1="143.7" x2="156.0" y2="145.5" stroke="#626262" stroke-width="0.8"/>
<text x="160.0" y="153.1" text-anchor="middle">9</text>
</g>
<text x="40.2" y="185.9" font-size="10.6" font-weight="bold" fill="#0a0a0a" stroke="#0a0a0a" stroke-width="0.3" textLength="94" lengthAdjust="spacingAndGlyphs">(a) Baseline (16-CH)</text>
<text x="209.6" y="186" font-size="10.6" font-weight="bold" fill="#0a0a0a" stroke="#0a0a0a" stroke-width="0.3" textLength="125.7" lengthAdjust="spacingAndGlyphs">(b) Nearest Neighborhood</text>
<text x="62.8" y="372.7" font-size="10.6" font-weight="bold" fill="#0a0a0a" stroke="#0a0a0a" stroke-width="0.3" textLength="48.6" lengthAdjust="spacingAndGlyphs">(c) Bicubic</text>
<text x="246" y="372.7" font-size="10.6" font-weight="bold" fill="#0a0a0a" stroke="#0a0a0a" stroke-width="0.3" textLength="52" lengthAdjust="spacingAndGlyphs">(d) Bilinear</text>
<text x="402.7" y="297.3" font-size="10.6" font-weight="bold" fill="#0a0a0a" stroke="#0a0a0a" stroke-width="0.3" textLength="116.5" lengthAdjust="spacingAndGlyphs">(e) Ground truth (64-CH)</text>
</svg></body></html>
